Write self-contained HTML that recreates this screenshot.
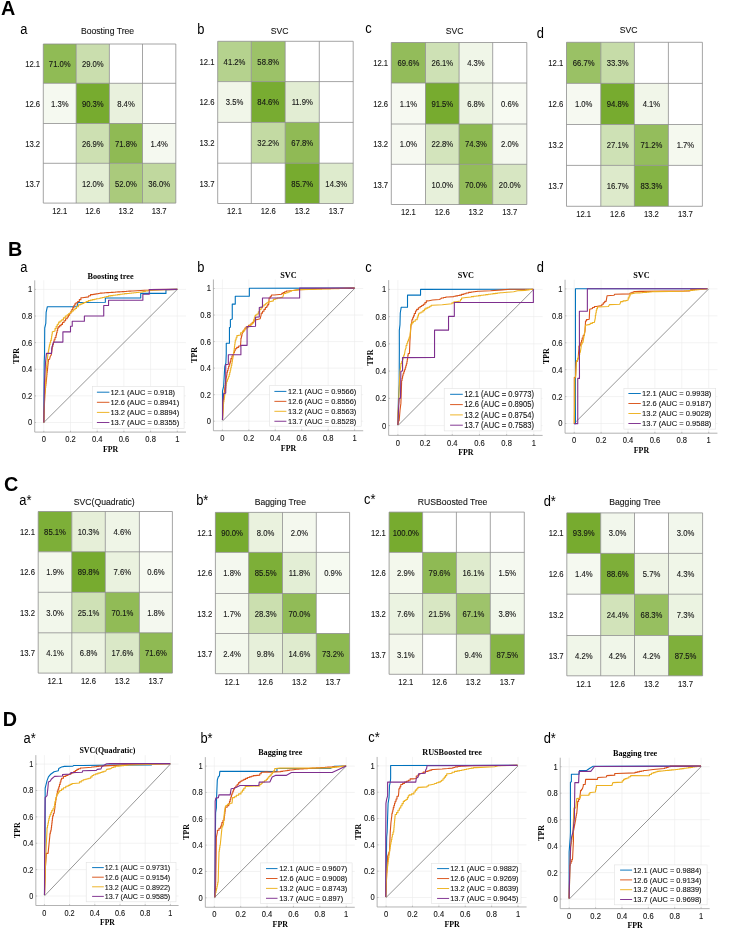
<!DOCTYPE html>
<html><head><meta charset="utf-8"><title>Figure</title>
<style>html,body{margin:0;padding:0;background:#fff;} svg{display:block;} text.t{stroke:#141414;stroke-width:0.1px;}</style>
</head><body>
<svg width="746" height="930" viewBox="0 0 746 930" font-family="'Liberation Sans', Arial, sans-serif">
<rect width="746" height="930" fill="#fff"/>
<rect x="43.30" y="44.00" width="32.90" height="39.30" fill="#90bb55"/>
<rect x="76.20" y="44.00" width="33.20" height="39.30" fill="#cadeae"/>
<rect x="109.40" y="44.00" width="33.10" height="39.30" fill="#ffffff"/>
<rect x="142.50" y="44.00" width="33.30" height="39.30" fill="#ffffff"/>
<rect x="43.30" y="83.30" width="32.90" height="40.20" fill="#f5f9f0"/>
<rect x="76.20" y="83.30" width="33.20" height="40.20" fill="#77ab2f"/>
<rect x="109.40" y="83.30" width="33.10" height="40.20" fill="#e9f1dd"/>
<rect x="142.50" y="83.30" width="33.30" height="40.20" fill="#ffffff"/>
<rect x="43.30" y="123.50" width="32.90" height="39.80" fill="#ffffff"/>
<rect x="76.20" y="123.50" width="33.20" height="39.80" fill="#cde0b2"/>
<rect x="109.40" y="123.50" width="33.10" height="39.80" fill="#8fba54"/>
<rect x="142.50" y="123.50" width="33.30" height="39.80" fill="#f5f9f0"/>
<rect x="43.30" y="163.30" width="32.90" height="39.80" fill="#ffffff"/>
<rect x="76.20" y="163.30" width="33.20" height="39.80" fill="#e3eed4"/>
<rect x="109.40" y="163.30" width="33.10" height="39.80" fill="#aaca7c"/>
<rect x="142.50" y="163.30" width="33.30" height="39.80" fill="#c0d89e"/>
<line x1="43.30" y1="44.00" x2="43.30" y2="203.10" stroke="#8e8e8e" stroke-width="0.8"/>
<line x1="76.20" y1="44.00" x2="76.20" y2="203.10" stroke="#8e8e8e" stroke-width="0.8"/>
<line x1="109.40" y1="44.00" x2="109.40" y2="203.10" stroke="#8e8e8e" stroke-width="0.8"/>
<line x1="142.50" y1="44.00" x2="142.50" y2="203.10" stroke="#8e8e8e" stroke-width="0.8"/>
<line x1="175.80" y1="44.00" x2="175.80" y2="203.10" stroke="#8e8e8e" stroke-width="0.8"/>
<line x1="43.30" y1="44.00" x2="175.80" y2="44.00" stroke="#8e8e8e" stroke-width="0.8"/>
<line x1="43.30" y1="83.30" x2="175.80" y2="83.30" stroke="#8e8e8e" stroke-width="0.8"/>
<line x1="43.30" y1="123.50" x2="175.80" y2="123.50" stroke="#8e8e8e" stroke-width="0.8"/>
<line x1="43.30" y1="163.30" x2="175.80" y2="163.30" stroke="#8e8e8e" stroke-width="0.8"/>
<line x1="43.30" y1="203.10" x2="175.80" y2="203.10" stroke="#8e8e8e" stroke-width="0.8"/>
<text transform="translate(59.75 66.95) scale(1 1.1)" text-anchor="middle" font-size="7.7" fill="#141414" class="t">71.0%</text>
<text transform="translate(92.80 66.95) scale(1 1.1)" text-anchor="middle" font-size="7.7" fill="#141414" class="t">29.0%</text>
<text transform="translate(59.75 106.70) scale(1 1.1)" text-anchor="middle" font-size="7.7" fill="#141414" class="t">1.3%</text>
<text transform="translate(92.80 106.70) scale(1 1.1)" text-anchor="middle" font-size="7.7" fill="#141414" class="t">90.3%</text>
<text transform="translate(125.95 106.70) scale(1 1.1)" text-anchor="middle" font-size="7.7" fill="#141414" class="t">8.4%</text>
<text transform="translate(92.80 146.70) scale(1 1.1)" text-anchor="middle" font-size="7.7" fill="#141414" class="t">26.9%</text>
<text transform="translate(125.95 146.70) scale(1 1.1)" text-anchor="middle" font-size="7.7" fill="#141414" class="t">71.8%</text>
<text transform="translate(159.15 146.70) scale(1 1.1)" text-anchor="middle" font-size="7.7" fill="#141414" class="t">1.4%</text>
<text transform="translate(92.80 186.50) scale(1 1.1)" text-anchor="middle" font-size="7.7" fill="#141414" class="t">12.0%</text>
<text transform="translate(125.95 186.50) scale(1 1.1)" text-anchor="middle" font-size="7.7" fill="#141414" class="t">52.0%</text>
<text transform="translate(159.15 186.50) scale(1 1.1)" text-anchor="middle" font-size="7.7" fill="#141414" class="t">36.0%</text>
<text transform="translate(40.10 66.95) scale(1 1.1)" text-anchor="end" font-size="7.7" fill="#141414" class="t">12.1</text>
<text transform="translate(40.10 106.70) scale(1 1.1)" text-anchor="end" font-size="7.7" fill="#141414" class="t">12.6</text>
<text transform="translate(40.10 146.70) scale(1 1.1)" text-anchor="end" font-size="7.7" fill="#141414" class="t">13.2</text>
<text transform="translate(40.10 186.50) scale(1 1.1)" text-anchor="end" font-size="7.7" fill="#141414" class="t">13.7</text>
<text transform="translate(59.75 214.00) scale(1 1.1)" text-anchor="middle" font-size="7.7" fill="#141414" class="t">12.1</text>
<text transform="translate(92.80 214.00) scale(1 1.1)" text-anchor="middle" font-size="7.7" fill="#141414" class="t">12.6</text>
<text transform="translate(125.95 214.00) scale(1 1.1)" text-anchor="middle" font-size="7.7" fill="#141414" class="t">13.2</text>
<text transform="translate(159.15 214.00) scale(1 1.1)" text-anchor="middle" font-size="7.7" fill="#141414" class="t">13.7</text>
<text x="107.50" y="34.40" text-anchor="middle" font-size="8.65" fill="#141414" class="t">Boosting Tree</text>
<text transform="translate(20.34 34.00) scale(0.97 1.1)" font-size="13.3" fill="#000">a</text>
<rect x="217.70" y="41.30" width="33.60" height="40.30" fill="#b5d28e"/>
<rect x="251.30" y="41.30" width="33.90" height="40.30" fill="#9cc268"/>
<rect x="285.20" y="41.30" width="34.10" height="40.30" fill="#ffffff"/>
<rect x="319.30" y="41.30" width="33.90" height="40.30" fill="#ffffff"/>
<rect x="217.70" y="81.60" width="33.60" height="40.80" fill="#f1f6e9"/>
<rect x="251.30" y="81.60" width="33.90" height="40.80" fill="#78ac31"/>
<rect x="285.20" y="81.60" width="34.10" height="40.80" fill="#e2edd3"/>
<rect x="319.30" y="81.60" width="33.90" height="40.80" fill="#ffffff"/>
<rect x="217.70" y="122.40" width="33.60" height="40.80" fill="#ffffff"/>
<rect x="251.30" y="122.40" width="33.90" height="40.80" fill="#c3daa3"/>
<rect x="285.20" y="122.40" width="34.10" height="40.80" fill="#90ba55"/>
<rect x="319.30" y="122.40" width="33.90" height="40.80" fill="#ffffff"/>
<rect x="217.70" y="163.20" width="33.60" height="40.30" fill="#ffffff"/>
<rect x="251.30" y="163.20" width="33.90" height="40.30" fill="#ffffff"/>
<rect x="285.20" y="163.20" width="34.10" height="40.30" fill="#77ab2f"/>
<rect x="319.30" y="163.20" width="33.90" height="40.30" fill="#deebcd"/>
<line x1="217.70" y1="41.30" x2="217.70" y2="203.50" stroke="#8e8e8e" stroke-width="0.8"/>
<line x1="251.30" y1="41.30" x2="251.30" y2="203.50" stroke="#8e8e8e" stroke-width="0.8"/>
<line x1="285.20" y1="41.30" x2="285.20" y2="203.50" stroke="#8e8e8e" stroke-width="0.8"/>
<line x1="319.30" y1="41.30" x2="319.30" y2="203.50" stroke="#8e8e8e" stroke-width="0.8"/>
<line x1="353.20" y1="41.30" x2="353.20" y2="203.50" stroke="#8e8e8e" stroke-width="0.8"/>
<line x1="217.70" y1="41.30" x2="353.20" y2="41.30" stroke="#8e8e8e" stroke-width="0.8"/>
<line x1="217.70" y1="81.60" x2="353.20" y2="81.60" stroke="#8e8e8e" stroke-width="0.8"/>
<line x1="217.70" y1="122.40" x2="353.20" y2="122.40" stroke="#8e8e8e" stroke-width="0.8"/>
<line x1="217.70" y1="163.20" x2="353.20" y2="163.20" stroke="#8e8e8e" stroke-width="0.8"/>
<line x1="217.70" y1="203.50" x2="353.20" y2="203.50" stroke="#8e8e8e" stroke-width="0.8"/>
<text transform="translate(234.50 64.75) scale(1 1.1)" text-anchor="middle" font-size="7.7" fill="#141414" class="t">41.2%</text>
<text transform="translate(268.25 64.75) scale(1 1.1)" text-anchor="middle" font-size="7.7" fill="#141414" class="t">58.8%</text>
<text transform="translate(234.50 105.30) scale(1 1.1)" text-anchor="middle" font-size="7.7" fill="#141414" class="t">3.5%</text>
<text transform="translate(268.25 105.30) scale(1 1.1)" text-anchor="middle" font-size="7.7" fill="#141414" class="t">84.6%</text>
<text transform="translate(302.25 105.30) scale(1 1.1)" text-anchor="middle" font-size="7.7" fill="#141414" class="t">11.9%</text>
<text transform="translate(268.25 146.10) scale(1 1.1)" text-anchor="middle" font-size="7.7" fill="#141414" class="t">32.2%</text>
<text transform="translate(302.25 146.10) scale(1 1.1)" text-anchor="middle" font-size="7.7" fill="#141414" class="t">67.8%</text>
<text transform="translate(302.25 186.65) scale(1 1.1)" text-anchor="middle" font-size="7.7" fill="#141414" class="t">85.7%</text>
<text transform="translate(336.25 186.65) scale(1 1.1)" text-anchor="middle" font-size="7.7" fill="#141414" class="t">14.3%</text>
<text transform="translate(214.50 64.75) scale(1 1.1)" text-anchor="end" font-size="7.7" fill="#141414" class="t">12.1</text>
<text transform="translate(214.50 105.30) scale(1 1.1)" text-anchor="end" font-size="7.7" fill="#141414" class="t">12.6</text>
<text transform="translate(214.50 146.10) scale(1 1.1)" text-anchor="end" font-size="7.7" fill="#141414" class="t">13.2</text>
<text transform="translate(214.50 186.65) scale(1 1.1)" text-anchor="end" font-size="7.7" fill="#141414" class="t">13.7</text>
<text transform="translate(234.50 214.40) scale(1 1.1)" text-anchor="middle" font-size="7.7" fill="#141414" class="t">12.1</text>
<text transform="translate(268.25 214.40) scale(1 1.1)" text-anchor="middle" font-size="7.7" fill="#141414" class="t">12.6</text>
<text transform="translate(302.25 214.40) scale(1 1.1)" text-anchor="middle" font-size="7.7" fill="#141414" class="t">13.2</text>
<text transform="translate(336.25 214.40) scale(1 1.1)" text-anchor="middle" font-size="7.7" fill="#141414" class="t">13.7</text>
<text x="279.70" y="33.60" text-anchor="middle" font-size="8.65" fill="#141414" class="t">SVC</text>
<text transform="translate(197.30 34.30) scale(0.97 1.1)" font-size="13.3" fill="#000">b</text>
<rect x="391.30" y="42.50" width="34.20" height="40.50" fill="#93bc5a"/>
<rect x="425.50" y="42.50" width="33.60" height="40.50" fill="#cee1b5"/>
<rect x="459.10" y="42.50" width="33.60" height="40.50" fill="#f0f6e8"/>
<rect x="492.70" y="42.50" width="34.10" height="40.50" fill="#ffffff"/>
<rect x="391.30" y="83.00" width="34.20" height="41.00" fill="#f6f9f1"/>
<rect x="425.50" y="83.00" width="33.60" height="41.00" fill="#77ab2f"/>
<rect x="459.10" y="83.00" width="33.60" height="41.00" fill="#ecf3e2"/>
<rect x="492.70" y="83.00" width="34.10" height="41.00" fill="#f7faf2"/>
<rect x="391.30" y="124.00" width="34.20" height="40.30" fill="#f6f9f1"/>
<rect x="425.50" y="124.00" width="33.60" height="40.30" fill="#d3e4bc"/>
<rect x="459.10" y="124.00" width="33.60" height="40.30" fill="#8db951"/>
<rect x="492.70" y="124.00" width="34.10" height="40.30" fill="#f4f8ee"/>
<rect x="391.30" y="164.30" width="34.20" height="40.20" fill="#ffffff"/>
<rect x="425.50" y="164.30" width="33.60" height="40.20" fill="#e7f0da"/>
<rect x="459.10" y="164.30" width="33.60" height="40.20" fill="#93bc59"/>
<rect x="492.70" y="164.30" width="34.10" height="40.20" fill="#d7e6c2"/>
<line x1="391.30" y1="42.50" x2="391.30" y2="204.50" stroke="#8e8e8e" stroke-width="0.8"/>
<line x1="425.50" y1="42.50" x2="425.50" y2="204.50" stroke="#8e8e8e" stroke-width="0.8"/>
<line x1="459.10" y1="42.50" x2="459.10" y2="204.50" stroke="#8e8e8e" stroke-width="0.8"/>
<line x1="492.70" y1="42.50" x2="492.70" y2="204.50" stroke="#8e8e8e" stroke-width="0.8"/>
<line x1="526.80" y1="42.50" x2="526.80" y2="204.50" stroke="#8e8e8e" stroke-width="0.8"/>
<line x1="391.30" y1="42.50" x2="526.80" y2="42.50" stroke="#8e8e8e" stroke-width="0.8"/>
<line x1="391.30" y1="83.00" x2="526.80" y2="83.00" stroke="#8e8e8e" stroke-width="0.8"/>
<line x1="391.30" y1="124.00" x2="526.80" y2="124.00" stroke="#8e8e8e" stroke-width="0.8"/>
<line x1="391.30" y1="164.30" x2="526.80" y2="164.30" stroke="#8e8e8e" stroke-width="0.8"/>
<line x1="391.30" y1="204.50" x2="526.80" y2="204.50" stroke="#8e8e8e" stroke-width="0.8"/>
<text transform="translate(408.40 66.05) scale(1 1.1)" text-anchor="middle" font-size="7.7" fill="#141414" class="t">69.6%</text>
<text transform="translate(442.30 66.05) scale(1 1.1)" text-anchor="middle" font-size="7.7" fill="#141414" class="t">26.1%</text>
<text transform="translate(475.90 66.05) scale(1 1.1)" text-anchor="middle" font-size="7.7" fill="#141414" class="t">4.3%</text>
<text transform="translate(408.40 106.80) scale(1 1.1)" text-anchor="middle" font-size="7.7" fill="#141414" class="t">1.1%</text>
<text transform="translate(442.30 106.80) scale(1 1.1)" text-anchor="middle" font-size="7.7" fill="#141414" class="t">91.5%</text>
<text transform="translate(475.90 106.80) scale(1 1.1)" text-anchor="middle" font-size="7.7" fill="#141414" class="t">6.8%</text>
<text transform="translate(509.75 106.80) scale(1 1.1)" text-anchor="middle" font-size="7.7" fill="#141414" class="t">0.6%</text>
<text transform="translate(408.40 147.45) scale(1 1.1)" text-anchor="middle" font-size="7.7" fill="#141414" class="t">1.0%</text>
<text transform="translate(442.30 147.45) scale(1 1.1)" text-anchor="middle" font-size="7.7" fill="#141414" class="t">22.8%</text>
<text transform="translate(475.90 147.45) scale(1 1.1)" text-anchor="middle" font-size="7.7" fill="#141414" class="t">74.3%</text>
<text transform="translate(509.75 147.45) scale(1 1.1)" text-anchor="middle" font-size="7.7" fill="#141414" class="t">2.0%</text>
<text transform="translate(442.30 187.70) scale(1 1.1)" text-anchor="middle" font-size="7.7" fill="#141414" class="t">10.0%</text>
<text transform="translate(475.90 187.70) scale(1 1.1)" text-anchor="middle" font-size="7.7" fill="#141414" class="t">70.0%</text>
<text transform="translate(509.75 187.70) scale(1 1.1)" text-anchor="middle" font-size="7.7" fill="#141414" class="t">20.0%</text>
<text transform="translate(388.10 66.05) scale(1 1.1)" text-anchor="end" font-size="7.7" fill="#141414" class="t">12.1</text>
<text transform="translate(388.10 106.80) scale(1 1.1)" text-anchor="end" font-size="7.7" fill="#141414" class="t">12.6</text>
<text transform="translate(388.10 147.45) scale(1 1.1)" text-anchor="end" font-size="7.7" fill="#141414" class="t">13.2</text>
<text transform="translate(388.10 187.70) scale(1 1.1)" text-anchor="end" font-size="7.7" fill="#141414" class="t">13.7</text>
<text transform="translate(408.40 215.40) scale(1 1.1)" text-anchor="middle" font-size="7.7" fill="#141414" class="t">12.1</text>
<text transform="translate(442.30 215.40) scale(1 1.1)" text-anchor="middle" font-size="7.7" fill="#141414" class="t">12.6</text>
<text transform="translate(475.90 215.40) scale(1 1.1)" text-anchor="middle" font-size="7.7" fill="#141414" class="t">13.2</text>
<text transform="translate(509.75 215.40) scale(1 1.1)" text-anchor="middle" font-size="7.7" fill="#141414" class="t">13.7</text>
<text x="454.60" y="33.60" text-anchor="middle" font-size="8.65" fill="#141414" class="t">SVC</text>
<text transform="translate(365.14 33.05) scale(0.97 1.1)" font-size="13.3" fill="#000">c</text>
<rect x="566.50" y="42.30" width="34.30" height="41.10" fill="#9ac165"/>
<rect x="600.80" y="42.30" width="33.60" height="41.10" fill="#c6dca8"/>
<rect x="634.40" y="42.30" width="34.00" height="41.10" fill="#ffffff"/>
<rect x="668.40" y="42.30" width="34.00" height="41.10" fill="#ffffff"/>
<rect x="566.50" y="83.40" width="34.30" height="41.10" fill="#f6f9f1"/>
<rect x="600.80" y="83.40" width="33.60" height="41.10" fill="#77ab2f"/>
<rect x="634.40" y="83.40" width="34.00" height="41.10" fill="#f1f6e9"/>
<rect x="668.40" y="83.40" width="34.00" height="41.10" fill="#ffffff"/>
<rect x="566.50" y="124.50" width="34.30" height="40.90" fill="#ffffff"/>
<rect x="600.80" y="124.50" width="33.60" height="40.90" fill="#cee1b5"/>
<rect x="634.40" y="124.50" width="34.00" height="40.90" fill="#94bd5c"/>
<rect x="668.40" y="124.50" width="34.00" height="40.90" fill="#f5f9ef"/>
<rect x="566.50" y="165.40" width="34.30" height="40.90" fill="#ffffff"/>
<rect x="600.80" y="165.40" width="33.60" height="40.90" fill="#ddeacb"/>
<rect x="634.40" y="165.40" width="34.00" height="40.90" fill="#85b445"/>
<rect x="668.40" y="165.40" width="34.00" height="40.90" fill="#ffffff"/>
<line x1="566.50" y1="42.30" x2="566.50" y2="206.30" stroke="#8e8e8e" stroke-width="0.8"/>
<line x1="600.80" y1="42.30" x2="600.80" y2="206.30" stroke="#8e8e8e" stroke-width="0.8"/>
<line x1="634.40" y1="42.30" x2="634.40" y2="206.30" stroke="#8e8e8e" stroke-width="0.8"/>
<line x1="668.40" y1="42.30" x2="668.40" y2="206.30" stroke="#8e8e8e" stroke-width="0.8"/>
<line x1="702.40" y1="42.30" x2="702.40" y2="206.30" stroke="#8e8e8e" stroke-width="0.8"/>
<line x1="566.50" y1="42.30" x2="702.40" y2="42.30" stroke="#8e8e8e" stroke-width="0.8"/>
<line x1="566.50" y1="83.40" x2="702.40" y2="83.40" stroke="#8e8e8e" stroke-width="0.8"/>
<line x1="566.50" y1="124.50" x2="702.40" y2="124.50" stroke="#8e8e8e" stroke-width="0.8"/>
<line x1="566.50" y1="165.40" x2="702.40" y2="165.40" stroke="#8e8e8e" stroke-width="0.8"/>
<line x1="566.50" y1="206.30" x2="702.40" y2="206.30" stroke="#8e8e8e" stroke-width="0.8"/>
<text transform="translate(583.65 66.15) scale(1 1.1)" text-anchor="middle" font-size="7.7" fill="#141414" class="t">66.7%</text>
<text transform="translate(617.60 66.15) scale(1 1.1)" text-anchor="middle" font-size="7.7" fill="#141414" class="t">33.3%</text>
<text transform="translate(583.65 107.25) scale(1 1.1)" text-anchor="middle" font-size="7.7" fill="#141414" class="t">1.0%</text>
<text transform="translate(617.60 107.25) scale(1 1.1)" text-anchor="middle" font-size="7.7" fill="#141414" class="t">94.8%</text>
<text transform="translate(651.40 107.25) scale(1 1.1)" text-anchor="middle" font-size="7.7" fill="#141414" class="t">4.1%</text>
<text transform="translate(617.60 148.25) scale(1 1.1)" text-anchor="middle" font-size="7.7" fill="#141414" class="t">27.1%</text>
<text transform="translate(651.40 148.25) scale(1 1.1)" text-anchor="middle" font-size="7.7" fill="#141414" class="t">71.2%</text>
<text transform="translate(685.40 148.25) scale(1 1.1)" text-anchor="middle" font-size="7.7" fill="#141414" class="t">1.7%</text>
<text transform="translate(617.60 189.15) scale(1 1.1)" text-anchor="middle" font-size="7.7" fill="#141414" class="t">16.7%</text>
<text transform="translate(651.40 189.15) scale(1 1.1)" text-anchor="middle" font-size="7.7" fill="#141414" class="t">83.3%</text>
<text transform="translate(563.30 66.15) scale(1 1.1)" text-anchor="end" font-size="7.7" fill="#141414" class="t">12.1</text>
<text transform="translate(563.30 107.25) scale(1 1.1)" text-anchor="end" font-size="7.7" fill="#141414" class="t">12.6</text>
<text transform="translate(563.30 148.25) scale(1 1.1)" text-anchor="end" font-size="7.7" fill="#141414" class="t">13.2</text>
<text transform="translate(563.30 189.15) scale(1 1.1)" text-anchor="end" font-size="7.7" fill="#141414" class="t">13.7</text>
<text transform="translate(583.65 217.20) scale(1 1.1)" text-anchor="middle" font-size="7.7" fill="#141414" class="t">12.1</text>
<text transform="translate(617.60 217.20) scale(1 1.1)" text-anchor="middle" font-size="7.7" fill="#141414" class="t">12.6</text>
<text transform="translate(651.40 217.20) scale(1 1.1)" text-anchor="middle" font-size="7.7" fill="#141414" class="t">13.2</text>
<text transform="translate(685.40 217.20) scale(1 1.1)" text-anchor="middle" font-size="7.7" fill="#141414" class="t">13.7</text>
<text x="628.50" y="32.70" text-anchor="middle" font-size="8.65" fill="#141414" class="t">SVC</text>
<text transform="translate(536.70 37.80) scale(0.97 1.1)" font-size="13.3" fill="#000">d</text>
<rect x="38.20" y="511.50" width="33.60" height="40.30" fill="#7daf38"/>
<rect x="71.80" y="511.50" width="33.50" height="40.30" fill="#e6efd8"/>
<rect x="105.30" y="511.50" width="34.10" height="40.30" fill="#eff5e7"/>
<rect x="139.40" y="511.50" width="33.00" height="40.30" fill="#ffffff"/>
<rect x="38.20" y="551.80" width="33.60" height="40.50" fill="#f4f8ee"/>
<rect x="71.80" y="551.80" width="33.50" height="40.50" fill="#77ab2f"/>
<rect x="105.30" y="551.80" width="34.10" height="40.50" fill="#eaf2df"/>
<rect x="139.40" y="551.80" width="33.00" height="40.50" fill="#f7faf2"/>
<rect x="38.20" y="592.30" width="33.60" height="40.50" fill="#f2f7eb"/>
<rect x="71.80" y="592.30" width="33.50" height="40.50" fill="#cfe1b6"/>
<rect x="105.30" y="592.30" width="34.10" height="40.50" fill="#91bb56"/>
<rect x="139.40" y="592.30" width="33.00" height="40.50" fill="#f4f8ef"/>
<rect x="38.20" y="632.80" width="33.60" height="40.30" fill="#f0f6e8"/>
<rect x="71.80" y="632.80" width="33.50" height="40.30" fill="#ecf3e1"/>
<rect x="105.30" y="632.80" width="34.10" height="40.30" fill="#dae8c7"/>
<rect x="139.40" y="632.80" width="33.00" height="40.30" fill="#8fba53"/>
<line x1="38.20" y1="511.50" x2="38.20" y2="673.10" stroke="#8e8e8e" stroke-width="0.8"/>
<line x1="71.80" y1="511.50" x2="71.80" y2="673.10" stroke="#8e8e8e" stroke-width="0.8"/>
<line x1="105.30" y1="511.50" x2="105.30" y2="673.10" stroke="#8e8e8e" stroke-width="0.8"/>
<line x1="139.40" y1="511.50" x2="139.40" y2="673.10" stroke="#8e8e8e" stroke-width="0.8"/>
<line x1="172.40" y1="511.50" x2="172.40" y2="673.10" stroke="#8e8e8e" stroke-width="0.8"/>
<line x1="38.20" y1="511.50" x2="172.40" y2="511.50" stroke="#8e8e8e" stroke-width="0.8"/>
<line x1="38.20" y1="551.80" x2="172.40" y2="551.80" stroke="#8e8e8e" stroke-width="0.8"/>
<line x1="38.20" y1="592.30" x2="172.40" y2="592.30" stroke="#8e8e8e" stroke-width="0.8"/>
<line x1="38.20" y1="632.80" x2="172.40" y2="632.80" stroke="#8e8e8e" stroke-width="0.8"/>
<line x1="38.20" y1="673.10" x2="172.40" y2="673.10" stroke="#8e8e8e" stroke-width="0.8"/>
<text transform="translate(55.00 534.95) scale(1 1.1)" text-anchor="middle" font-size="7.7" fill="#141414" class="t">85.1%</text>
<text transform="translate(88.55 534.95) scale(1 1.1)" text-anchor="middle" font-size="7.7" fill="#141414" class="t">10.3%</text>
<text transform="translate(122.35 534.95) scale(1 1.1)" text-anchor="middle" font-size="7.7" fill="#141414" class="t">4.6%</text>
<text transform="translate(55.00 575.35) scale(1 1.1)" text-anchor="middle" font-size="7.7" fill="#141414" class="t">1.9%</text>
<text transform="translate(88.55 575.35) scale(1 1.1)" text-anchor="middle" font-size="7.7" fill="#141414" class="t">89.8%</text>
<text transform="translate(122.35 575.35) scale(1 1.1)" text-anchor="middle" font-size="7.7" fill="#141414" class="t">7.6%</text>
<text transform="translate(155.90 575.35) scale(1 1.1)" text-anchor="middle" font-size="7.7" fill="#141414" class="t">0.6%</text>
<text transform="translate(55.00 615.85) scale(1 1.1)" text-anchor="middle" font-size="7.7" fill="#141414" class="t">3.0%</text>
<text transform="translate(88.55 615.85) scale(1 1.1)" text-anchor="middle" font-size="7.7" fill="#141414" class="t">25.1%</text>
<text transform="translate(122.35 615.85) scale(1 1.1)" text-anchor="middle" font-size="7.7" fill="#141414" class="t">70.1%</text>
<text transform="translate(155.90 615.85) scale(1 1.1)" text-anchor="middle" font-size="7.7" fill="#141414" class="t">1.8%</text>
<text transform="translate(55.00 656.25) scale(1 1.1)" text-anchor="middle" font-size="7.7" fill="#141414" class="t">4.1%</text>
<text transform="translate(88.55 656.25) scale(1 1.1)" text-anchor="middle" font-size="7.7" fill="#141414" class="t">6.8%</text>
<text transform="translate(122.35 656.25) scale(1 1.1)" text-anchor="middle" font-size="7.7" fill="#141414" class="t">17.6%</text>
<text transform="translate(155.90 656.25) scale(1 1.1)" text-anchor="middle" font-size="7.7" fill="#141414" class="t">71.6%</text>
<text transform="translate(35.00 534.95) scale(1 1.1)" text-anchor="end" font-size="7.7" fill="#141414" class="t">12.1</text>
<text transform="translate(35.00 575.35) scale(1 1.1)" text-anchor="end" font-size="7.7" fill="#141414" class="t">12.6</text>
<text transform="translate(35.00 615.85) scale(1 1.1)" text-anchor="end" font-size="7.7" fill="#141414" class="t">13.2</text>
<text transform="translate(35.00 656.25) scale(1 1.1)" text-anchor="end" font-size="7.7" fill="#141414" class="t">13.7</text>
<text transform="translate(55.00 684.00) scale(1 1.1)" text-anchor="middle" font-size="7.7" fill="#141414" class="t">12.1</text>
<text transform="translate(88.55 684.00) scale(1 1.1)" text-anchor="middle" font-size="7.7" fill="#141414" class="t">12.6</text>
<text transform="translate(122.35 684.00) scale(1 1.1)" text-anchor="middle" font-size="7.7" fill="#141414" class="t">13.2</text>
<text transform="translate(155.90 684.00) scale(1 1.1)" text-anchor="middle" font-size="7.7" fill="#141414" class="t">13.7</text>
<text x="104.30" y="505.10" text-anchor="middle" font-size="8.65" fill="#141414" class="t">SVC(Quadratic)</text>
<text transform="translate(19.34 505.30) scale(0.97 1.1)" font-size="13.3" fill="#000">a*</text>
<rect x="215.40" y="512.40" width="33.30" height="40.00" fill="#77ab2f"/>
<rect x="248.70" y="512.40" width="33.80" height="40.00" fill="#eaf2de"/>
<rect x="282.50" y="512.40" width="33.80" height="40.00" fill="#f4f8ee"/>
<rect x="316.30" y="512.40" width="33.30" height="40.00" fill="#ffffff"/>
<rect x="215.40" y="552.40" width="33.30" height="41.10" fill="#f4f8ef"/>
<rect x="248.70" y="552.40" width="33.80" height="41.10" fill="#7daf38"/>
<rect x="282.50" y="552.40" width="33.80" height="41.10" fill="#e3eed5"/>
<rect x="316.30" y="552.40" width="33.30" height="41.10" fill="#f6faf1"/>
<rect x="215.40" y="593.50" width="33.30" height="40.00" fill="#f5f9ef"/>
<rect x="248.70" y="593.50" width="33.80" height="40.00" fill="#cbdfaf"/>
<rect x="282.50" y="593.50" width="33.80" height="40.00" fill="#91bb57"/>
<rect x="316.30" y="593.50" width="33.30" height="40.00" fill="#ffffff"/>
<rect x="215.40" y="633.50" width="33.30" height="40.20" fill="#f3f8ed"/>
<rect x="248.70" y="633.50" width="33.80" height="40.20" fill="#e7f0da"/>
<rect x="282.50" y="633.50" width="33.80" height="40.20" fill="#dfebce"/>
<rect x="316.30" y="633.50" width="33.30" height="40.20" fill="#8db951"/>
<line x1="215.40" y1="512.40" x2="215.40" y2="673.70" stroke="#8e8e8e" stroke-width="0.8"/>
<line x1="248.70" y1="512.40" x2="248.70" y2="673.70" stroke="#8e8e8e" stroke-width="0.8"/>
<line x1="282.50" y1="512.40" x2="282.50" y2="673.70" stroke="#8e8e8e" stroke-width="0.8"/>
<line x1="316.30" y1="512.40" x2="316.30" y2="673.70" stroke="#8e8e8e" stroke-width="0.8"/>
<line x1="349.60" y1="512.40" x2="349.60" y2="673.70" stroke="#8e8e8e" stroke-width="0.8"/>
<line x1="215.40" y1="512.40" x2="349.60" y2="512.40" stroke="#8e8e8e" stroke-width="0.8"/>
<line x1="215.40" y1="552.40" x2="349.60" y2="552.40" stroke="#8e8e8e" stroke-width="0.8"/>
<line x1="215.40" y1="593.50" x2="349.60" y2="593.50" stroke="#8e8e8e" stroke-width="0.8"/>
<line x1="215.40" y1="633.50" x2="349.60" y2="633.50" stroke="#8e8e8e" stroke-width="0.8"/>
<line x1="215.40" y1="673.70" x2="349.60" y2="673.70" stroke="#8e8e8e" stroke-width="0.8"/>
<text transform="translate(232.05 535.70) scale(1 1.1)" text-anchor="middle" font-size="7.7" fill="#141414" class="t">90.0%</text>
<text transform="translate(265.60 535.70) scale(1 1.1)" text-anchor="middle" font-size="7.7" fill="#141414" class="t">8.0%</text>
<text transform="translate(299.40 535.70) scale(1 1.1)" text-anchor="middle" font-size="7.7" fill="#141414" class="t">2.0%</text>
<text transform="translate(232.05 576.25) scale(1 1.1)" text-anchor="middle" font-size="7.7" fill="#141414" class="t">1.8%</text>
<text transform="translate(265.60 576.25) scale(1 1.1)" text-anchor="middle" font-size="7.7" fill="#141414" class="t">85.5%</text>
<text transform="translate(299.40 576.25) scale(1 1.1)" text-anchor="middle" font-size="7.7" fill="#141414" class="t">11.8%</text>
<text transform="translate(332.95 576.25) scale(1 1.1)" text-anchor="middle" font-size="7.7" fill="#141414" class="t">0.9%</text>
<text transform="translate(232.05 616.80) scale(1 1.1)" text-anchor="middle" font-size="7.7" fill="#141414" class="t">1.7%</text>
<text transform="translate(265.60 616.80) scale(1 1.1)" text-anchor="middle" font-size="7.7" fill="#141414" class="t">28.3%</text>
<text transform="translate(299.40 616.80) scale(1 1.1)" text-anchor="middle" font-size="7.7" fill="#141414" class="t">70.0%</text>
<text transform="translate(232.05 656.90) scale(1 1.1)" text-anchor="middle" font-size="7.7" fill="#141414" class="t">2.4%</text>
<text transform="translate(265.60 656.90) scale(1 1.1)" text-anchor="middle" font-size="7.7" fill="#141414" class="t">9.8%</text>
<text transform="translate(299.40 656.90) scale(1 1.1)" text-anchor="middle" font-size="7.7" fill="#141414" class="t">14.6%</text>
<text transform="translate(332.95 656.90) scale(1 1.1)" text-anchor="middle" font-size="7.7" fill="#141414" class="t">73.2%</text>
<text transform="translate(212.20 535.70) scale(1 1.1)" text-anchor="end" font-size="7.7" fill="#141414" class="t">12.1</text>
<text transform="translate(212.20 576.25) scale(1 1.1)" text-anchor="end" font-size="7.7" fill="#141414" class="t">12.6</text>
<text transform="translate(212.20 616.80) scale(1 1.1)" text-anchor="end" font-size="7.7" fill="#141414" class="t">13.2</text>
<text transform="translate(212.20 656.90) scale(1 1.1)" text-anchor="end" font-size="7.7" fill="#141414" class="t">13.7</text>
<text transform="translate(232.05 684.60) scale(1 1.1)" text-anchor="middle" font-size="7.7" fill="#141414" class="t">12.1</text>
<text transform="translate(265.60 684.60) scale(1 1.1)" text-anchor="middle" font-size="7.7" fill="#141414" class="t">12.6</text>
<text transform="translate(299.40 684.60) scale(1 1.1)" text-anchor="middle" font-size="7.7" fill="#141414" class="t">13.2</text>
<text transform="translate(332.95 684.60) scale(1 1.1)" text-anchor="middle" font-size="7.7" fill="#141414" class="t">13.7</text>
<text x="280.30" y="505.30" text-anchor="middle" font-size="8.65" fill="#141414" class="t">Bagging Tree</text>
<text transform="translate(196.20 505.10) scale(0.97 1.1)" font-size="13.3" fill="#000">b*</text>
<rect x="389.10" y="512.10" width="33.50" height="40.30" fill="#77ab2f"/>
<rect x="422.60" y="512.10" width="33.80" height="40.30" fill="#ffffff"/>
<rect x="456.40" y="512.10" width="33.90" height="40.30" fill="#ffffff"/>
<rect x="490.30" y="512.10" width="34.00" height="40.30" fill="#ffffff"/>
<rect x="389.10" y="552.40" width="33.50" height="41.10" fill="#f3f8ec"/>
<rect x="422.60" y="552.40" width="33.80" height="41.10" fill="#8fba54"/>
<rect x="456.40" y="552.40" width="33.90" height="41.10" fill="#dfebce"/>
<rect x="490.30" y="552.40" width="34.00" height="41.10" fill="#f5f9f0"/>
<rect x="389.10" y="593.50" width="33.50" height="40.70" fill="#ebf3e1"/>
<rect x="422.60" y="593.50" width="33.80" height="40.70" fill="#d8e7c3"/>
<rect x="456.40" y="593.50" width="33.90" height="40.70" fill="#9ec36b"/>
<rect x="490.30" y="593.50" width="34.00" height="40.70" fill="#f1f7ea"/>
<rect x="389.10" y="634.20" width="33.50" height="40.10" fill="#f3f7ec"/>
<rect x="422.60" y="634.20" width="33.80" height="40.10" fill="#ffffff"/>
<rect x="456.40" y="634.20" width="33.90" height="40.10" fill="#e9f1dd"/>
<rect x="490.30" y="634.20" width="34.00" height="40.10" fill="#86b445"/>
<line x1="389.10" y1="512.10" x2="389.10" y2="674.30" stroke="#8e8e8e" stroke-width="0.8"/>
<line x1="422.60" y1="512.10" x2="422.60" y2="674.30" stroke="#8e8e8e" stroke-width="0.8"/>
<line x1="456.40" y1="512.10" x2="456.40" y2="674.30" stroke="#8e8e8e" stroke-width="0.8"/>
<line x1="490.30" y1="512.10" x2="490.30" y2="674.30" stroke="#8e8e8e" stroke-width="0.8"/>
<line x1="524.30" y1="512.10" x2="524.30" y2="674.30" stroke="#8e8e8e" stroke-width="0.8"/>
<line x1="389.10" y1="512.10" x2="524.30" y2="512.10" stroke="#8e8e8e" stroke-width="0.8"/>
<line x1="389.10" y1="552.40" x2="524.30" y2="552.40" stroke="#8e8e8e" stroke-width="0.8"/>
<line x1="389.10" y1="593.50" x2="524.30" y2="593.50" stroke="#8e8e8e" stroke-width="0.8"/>
<line x1="389.10" y1="634.20" x2="524.30" y2="634.20" stroke="#8e8e8e" stroke-width="0.8"/>
<line x1="389.10" y1="674.30" x2="524.30" y2="674.30" stroke="#8e8e8e" stroke-width="0.8"/>
<text transform="translate(405.85 535.55) scale(1 1.1)" text-anchor="middle" font-size="7.7" fill="#141414" class="t">100.0%</text>
<text transform="translate(405.85 576.25) scale(1 1.1)" text-anchor="middle" font-size="7.7" fill="#141414" class="t">2.9%</text>
<text transform="translate(439.50 576.25) scale(1 1.1)" text-anchor="middle" font-size="7.7" fill="#141414" class="t">79.6%</text>
<text transform="translate(473.35 576.25) scale(1 1.1)" text-anchor="middle" font-size="7.7" fill="#141414" class="t">16.1%</text>
<text transform="translate(507.30 576.25) scale(1 1.1)" text-anchor="middle" font-size="7.7" fill="#141414" class="t">1.5%</text>
<text transform="translate(405.85 617.15) scale(1 1.1)" text-anchor="middle" font-size="7.7" fill="#141414" class="t">7.6%</text>
<text transform="translate(439.50 617.15) scale(1 1.1)" text-anchor="middle" font-size="7.7" fill="#141414" class="t">21.5%</text>
<text transform="translate(473.35 617.15) scale(1 1.1)" text-anchor="middle" font-size="7.7" fill="#141414" class="t">67.1%</text>
<text transform="translate(507.30 617.15) scale(1 1.1)" text-anchor="middle" font-size="7.7" fill="#141414" class="t">3.8%</text>
<text transform="translate(405.85 657.55) scale(1 1.1)" text-anchor="middle" font-size="7.7" fill="#141414" class="t">3.1%</text>
<text transform="translate(473.35 657.55) scale(1 1.1)" text-anchor="middle" font-size="7.7" fill="#141414" class="t">9.4%</text>
<text transform="translate(507.30 657.55) scale(1 1.1)" text-anchor="middle" font-size="7.7" fill="#141414" class="t">87.5%</text>
<text transform="translate(385.90 535.55) scale(1 1.1)" text-anchor="end" font-size="7.7" fill="#141414" class="t">12.1</text>
<text transform="translate(385.90 576.25) scale(1 1.1)" text-anchor="end" font-size="7.7" fill="#141414" class="t">12.6</text>
<text transform="translate(385.90 617.15) scale(1 1.1)" text-anchor="end" font-size="7.7" fill="#141414" class="t">13.2</text>
<text transform="translate(385.90 657.55) scale(1 1.1)" text-anchor="end" font-size="7.7" fill="#141414" class="t">13.7</text>
<text transform="translate(405.85 685.20) scale(1 1.1)" text-anchor="middle" font-size="7.7" fill="#141414" class="t">12.1</text>
<text transform="translate(439.50 685.20) scale(1 1.1)" text-anchor="middle" font-size="7.7" fill="#141414" class="t">12.6</text>
<text transform="translate(473.35 685.20) scale(1 1.1)" text-anchor="middle" font-size="7.7" fill="#141414" class="t">13.2</text>
<text transform="translate(507.30 685.20) scale(1 1.1)" text-anchor="middle" font-size="7.7" fill="#141414" class="t">13.7</text>
<text x="452.60" y="504.90" text-anchor="middle" font-size="8.65" fill="#141414" class="t">RUSBoosted Tree</text>
<text transform="translate(364.00 503.95) scale(0.97 1.1)" font-size="13.3" fill="#000">c*</text>
<rect x="566.80" y="512.90" width="33.90" height="40.50" fill="#77ab2f"/>
<rect x="600.70" y="512.90" width="33.80" height="40.50" fill="#f2f7ec"/>
<rect x="634.50" y="512.90" width="34.00" height="40.50" fill="#ffffff"/>
<rect x="668.50" y="512.90" width="34.10" height="40.50" fill="#f2f7ec"/>
<rect x="566.80" y="553.40" width="33.90" height="40.80" fill="#f5f9f0"/>
<rect x="600.70" y="553.40" width="33.80" height="40.80" fill="#7eaf39"/>
<rect x="634.50" y="553.40" width="34.00" height="40.80" fill="#eef4e5"/>
<rect x="668.50" y="553.40" width="34.10" height="40.80" fill="#f0f6e8"/>
<rect x="566.80" y="594.20" width="33.90" height="41.30" fill="#ffffff"/>
<rect x="600.70" y="594.20" width="33.80" height="41.30" fill="#d2e3ba"/>
<rect x="634.50" y="594.20" width="34.00" height="41.30" fill="#97bf60"/>
<rect x="668.50" y="594.20" width="34.10" height="41.30" fill="#ebf3e1"/>
<rect x="566.80" y="635.50" width="33.90" height="40.30" fill="#f0f6e9"/>
<rect x="600.70" y="635.50" width="33.80" height="40.30" fill="#f0f6e9"/>
<rect x="634.50" y="635.50" width="34.00" height="40.30" fill="#f0f6e9"/>
<rect x="668.50" y="635.50" width="34.10" height="40.30" fill="#7fb03b"/>
<line x1="566.80" y1="512.90" x2="566.80" y2="675.80" stroke="#8e8e8e" stroke-width="0.8"/>
<line x1="600.70" y1="512.90" x2="600.70" y2="675.80" stroke="#8e8e8e" stroke-width="0.8"/>
<line x1="634.50" y1="512.90" x2="634.50" y2="675.80" stroke="#8e8e8e" stroke-width="0.8"/>
<line x1="668.50" y1="512.90" x2="668.50" y2="675.80" stroke="#8e8e8e" stroke-width="0.8"/>
<line x1="702.60" y1="512.90" x2="702.60" y2="675.80" stroke="#8e8e8e" stroke-width="0.8"/>
<line x1="566.80" y1="512.90" x2="702.60" y2="512.90" stroke="#8e8e8e" stroke-width="0.8"/>
<line x1="566.80" y1="553.40" x2="702.60" y2="553.40" stroke="#8e8e8e" stroke-width="0.8"/>
<line x1="566.80" y1="594.20" x2="702.60" y2="594.20" stroke="#8e8e8e" stroke-width="0.8"/>
<line x1="566.80" y1="635.50" x2="702.60" y2="635.50" stroke="#8e8e8e" stroke-width="0.8"/>
<line x1="566.80" y1="675.80" x2="702.60" y2="675.80" stroke="#8e8e8e" stroke-width="0.8"/>
<text transform="translate(583.75 536.45) scale(1 1.1)" text-anchor="middle" font-size="7.7" fill="#141414" class="t">93.9%</text>
<text transform="translate(617.60 536.45) scale(1 1.1)" text-anchor="middle" font-size="7.7" fill="#141414" class="t">3.0%</text>
<text transform="translate(685.55 536.45) scale(1 1.1)" text-anchor="middle" font-size="7.7" fill="#141414" class="t">3.0%</text>
<text transform="translate(583.75 577.10) scale(1 1.1)" text-anchor="middle" font-size="7.7" fill="#141414" class="t">1.4%</text>
<text transform="translate(617.60 577.10) scale(1 1.1)" text-anchor="middle" font-size="7.7" fill="#141414" class="t">88.6%</text>
<text transform="translate(651.50 577.10) scale(1 1.1)" text-anchor="middle" font-size="7.7" fill="#141414" class="t">5.7%</text>
<text transform="translate(685.55 577.10) scale(1 1.1)" text-anchor="middle" font-size="7.7" fill="#141414" class="t">4.3%</text>
<text transform="translate(617.60 618.15) scale(1 1.1)" text-anchor="middle" font-size="7.7" fill="#141414" class="t">24.4%</text>
<text transform="translate(651.50 618.15) scale(1 1.1)" text-anchor="middle" font-size="7.7" fill="#141414" class="t">68.3%</text>
<text transform="translate(685.55 618.15) scale(1 1.1)" text-anchor="middle" font-size="7.7" fill="#141414" class="t">7.3%</text>
<text transform="translate(583.75 658.95) scale(1 1.1)" text-anchor="middle" font-size="7.7" fill="#141414" class="t">4.2%</text>
<text transform="translate(617.60 658.95) scale(1 1.1)" text-anchor="middle" font-size="7.7" fill="#141414" class="t">4.2%</text>
<text transform="translate(651.50 658.95) scale(1 1.1)" text-anchor="middle" font-size="7.7" fill="#141414" class="t">4.2%</text>
<text transform="translate(685.55 658.95) scale(1 1.1)" text-anchor="middle" font-size="7.7" fill="#141414" class="t">87.5%</text>
<text transform="translate(563.60 536.45) scale(1 1.1)" text-anchor="end" font-size="7.7" fill="#141414" class="t">12.1</text>
<text transform="translate(563.60 577.10) scale(1 1.1)" text-anchor="end" font-size="7.7" fill="#141414" class="t">12.6</text>
<text transform="translate(563.60 618.15) scale(1 1.1)" text-anchor="end" font-size="7.7" fill="#141414" class="t">13.2</text>
<text transform="translate(563.60 658.95) scale(1 1.1)" text-anchor="end" font-size="7.7" fill="#141414" class="t">13.7</text>
<text transform="translate(583.75 686.70) scale(1 1.1)" text-anchor="middle" font-size="7.7" fill="#141414" class="t">12.1</text>
<text transform="translate(617.60 686.70) scale(1 1.1)" text-anchor="middle" font-size="7.7" fill="#141414" class="t">12.6</text>
<text transform="translate(651.50 686.70) scale(1 1.1)" text-anchor="middle" font-size="7.7" fill="#141414" class="t">13.2</text>
<text transform="translate(685.55 686.70) scale(1 1.1)" text-anchor="middle" font-size="7.7" fill="#141414" class="t">13.7</text>
<text x="634.90" y="505.30" text-anchor="middle" font-size="8.65" fill="#141414" class="t">Bagging Tree</text>
<text transform="translate(543.70 505.70) scale(0.97 1.1)" font-size="13.3" fill="#000">d*</text>
<line x1="43.80" y1="280.35" x2="43.80" y2="432.08" stroke="#ebebeb" stroke-width="0.6"/>
<line x1="34.72" y1="422.50" x2="185.98" y2="422.50" stroke="#ebebeb" stroke-width="0.6"/>
<line x1="70.50" y1="280.35" x2="70.50" y2="432.08" stroke="#ebebeb" stroke-width="0.6"/>
<line x1="34.72" y1="395.88" x2="185.98" y2="395.88" stroke="#ebebeb" stroke-width="0.6"/>
<line x1="97.20" y1="280.35" x2="97.20" y2="432.08" stroke="#ebebeb" stroke-width="0.6"/>
<line x1="34.72" y1="369.26" x2="185.98" y2="369.26" stroke="#ebebeb" stroke-width="0.6"/>
<line x1="123.90" y1="280.35" x2="123.90" y2="432.08" stroke="#ebebeb" stroke-width="0.6"/>
<line x1="34.72" y1="342.64" x2="185.98" y2="342.64" stroke="#ebebeb" stroke-width="0.6"/>
<line x1="150.60" y1="280.35" x2="150.60" y2="432.08" stroke="#ebebeb" stroke-width="0.6"/>
<line x1="34.72" y1="316.02" x2="185.98" y2="316.02" stroke="#ebebeb" stroke-width="0.6"/>
<line x1="177.30" y1="280.35" x2="177.30" y2="432.08" stroke="#ebebeb" stroke-width="0.6"/>
<line x1="34.72" y1="289.40" x2="185.98" y2="289.40" stroke="#ebebeb" stroke-width="0.6"/>
<polyline points="34.72,280.35 34.72,432.08 185.98,432.08" fill="none" stroke="#a0a0a0" stroke-width="0.8"/>
<line x1="34.72" y1="422.50" x2="36.02" y2="422.50" stroke="#a0a0a0" stroke-width="0.6"/>
<line x1="43.80" y1="432.08" x2="43.80" y2="430.78" stroke="#a0a0a0" stroke-width="0.6"/>
<line x1="34.72" y1="395.88" x2="36.02" y2="395.88" stroke="#a0a0a0" stroke-width="0.6"/>
<line x1="70.50" y1="432.08" x2="70.50" y2="430.78" stroke="#a0a0a0" stroke-width="0.6"/>
<line x1="34.72" y1="369.26" x2="36.02" y2="369.26" stroke="#a0a0a0" stroke-width="0.6"/>
<line x1="97.20" y1="432.08" x2="97.20" y2="430.78" stroke="#a0a0a0" stroke-width="0.6"/>
<line x1="34.72" y1="342.64" x2="36.02" y2="342.64" stroke="#a0a0a0" stroke-width="0.6"/>
<line x1="123.90" y1="432.08" x2="123.90" y2="430.78" stroke="#a0a0a0" stroke-width="0.6"/>
<line x1="34.72" y1="316.02" x2="36.02" y2="316.02" stroke="#a0a0a0" stroke-width="0.6"/>
<line x1="150.60" y1="432.08" x2="150.60" y2="430.78" stroke="#a0a0a0" stroke-width="0.6"/>
<line x1="34.72" y1="289.40" x2="36.02" y2="289.40" stroke="#a0a0a0" stroke-width="0.6"/>
<line x1="177.30" y1="432.08" x2="177.30" y2="430.78" stroke="#a0a0a0" stroke-width="0.6"/>
<text transform="translate(32.22 425.45) scale(1.0 1.1)" text-anchor="end" font-size="7.6" fill="#141414" class="t">0</text>
<text transform="translate(43.80 442.18) scale(1.0 1.1)" text-anchor="middle" font-size="7.6" fill="#141414" class="t">0</text>
<text transform="translate(32.22 398.83) scale(1.0 1.1)" text-anchor="end" font-size="7.6" fill="#141414" class="t">0.2</text>
<text transform="translate(70.50 442.18) scale(1.0 1.1)" text-anchor="middle" font-size="7.6" fill="#141414" class="t">0.2</text>
<text transform="translate(32.22 372.21) scale(1.0 1.1)" text-anchor="end" font-size="7.6" fill="#141414" class="t">0.4</text>
<text transform="translate(97.20 442.18) scale(1.0 1.1)" text-anchor="middle" font-size="7.6" fill="#141414" class="t">0.4</text>
<text transform="translate(32.22 345.59) scale(1.0 1.1)" text-anchor="end" font-size="7.6" fill="#141414" class="t">0.6</text>
<text transform="translate(123.90 442.18) scale(1.0 1.1)" text-anchor="middle" font-size="7.6" fill="#141414" class="t">0.6</text>
<text transform="translate(32.22 318.97) scale(1.0 1.1)" text-anchor="end" font-size="7.6" fill="#141414" class="t">0.8</text>
<text transform="translate(150.60 442.18) scale(1.0 1.1)" text-anchor="middle" font-size="7.6" fill="#141414" class="t">0.8</text>
<text transform="translate(32.22 292.35) scale(1.0 1.1)" text-anchor="end" font-size="7.6" fill="#141414" class="t">1</text>
<text transform="translate(177.30 442.18) scale(1.0 1.1)" text-anchor="middle" font-size="7.6" fill="#141414" class="t">1</text>
<line x1="43.80" y1="422.50" x2="177.30" y2="289.40" stroke="#2a2a2a" stroke-width="0.5"/>
<polyline points="43.80,422.50 44.20,362.61 44.55,354.62 44.73,328.00 45.80,323.47 46.14,312.29 47.35,306.70 76.91,306.70 77.44,304.84 77.84,302.44 105.34,302.31 105.34,298.05 140.72,298.05 140.72,293.39 165.95,293.39 165.95,289.67 177.30,289.40" fill="none" stroke="#0072BD" stroke-width="1.1" stroke-linejoin="round"/>
<polyline points="43.80,422.50 44.73,396.55 44.73,394.37 44.96,394.37 44.96,392.19 45.19,392.19 45.19,390.02 45.42,390.02 45.42,387.84 45.65,387.84 45.65,385.66 45.87,385.66 45.87,383.49 46.10,383.49 46.10,381.31 46.33,381.31 46.33,379.13 46.56,379.13 46.56,376.96 46.78,376.96 46.78,374.78 47.01,374.78 47.01,372.60 47.24,372.60 47.24,370.43 47.47,370.43 47.47,368.25 47.70,368.25 47.70,366.07 47.92,366.07 47.92,363.90 48.15,363.90 48.15,361.72 48.38,361.72 48.38,359.54 48.61,359.54 49.54,359.28 50.34,356.22 51.28,354.89 52.21,348.76 52.21,346.54 52.83,346.54 52.83,344.33 53.46,344.33 53.46,342.11 54.08,342.11 54.08,339.78 55.01,339.78 55.01,337.45 55.95,337.45 55.95,335.12 56.52,335.12 56.52,332.79 57.08,332.79 57.08,330.46 57.65,330.46 57.65,328.13 58.22,328.13 58.22,326.89 59.64,326.89 59.64,325.65 61.07,325.65 61.07,324.41 62.49,324.41 62.49,322.54 64.05,322.54 64.05,320.68 65.60,320.68 65.60,318.82 67.16,318.82 67.16,316.95 68.41,316.95 68.41,315.09 69.65,315.09 69.65,313.22 70.90,313.22 70.90,311.36 71.83,311.36 71.83,309.50 72.77,309.50 72.77,307.63 73.70,307.63 73.70,305.77 74.84,305.77 74.84,303.91 75.97,303.91 75.97,302.71 77.64,302.71 77.64,301.51 79.31,301.51 79.31,299.65 80.91,299.65 80.91,297.79 82.51,297.79 88.66,296.85 88.66,295.72 90.53,295.72 90.53,294.59 92.39,294.59 98.00,293.66 100.00,293.26 100.00,293.11 102.20,293.11 102.20,292.96 104.40,292.96 104.40,292.81 106.60,292.81 106.60,292.66 108.80,292.66 108.80,292.51 111.00,292.51 111.00,292.35 113.19,292.35 113.19,292.20 115.39,292.20 115.39,292.05 117.59,292.05 117.59,291.90 119.79,291.90 119.79,291.75 121.99,291.75 121.99,291.60 124.18,291.60 124.18,291.45 126.38,291.45 126.38,291.30 128.58,291.30 128.58,291.15 130.78,291.15 130.78,291.00 132.98,291.00 148.33,290.07 150.60,289.67 177.30,289.40" fill="none" stroke="#D95319" stroke-width="1.1" stroke-linejoin="round"/>
<polyline points="43.80,422.50 44.47,402.53 44.47,400.32 44.60,400.32 44.60,398.10 44.73,398.10 44.73,395.88 44.87,395.88 44.87,393.66 45.00,393.66 45.00,391.44 45.13,391.44 45.13,389.22 45.27,389.22 45.27,387.01 45.40,387.01 45.40,384.79 45.54,384.79 45.54,382.57 45.67,382.57 45.67,380.35 45.80,380.35 45.80,378.13 45.94,378.13 45.94,375.91 46.07,375.91 46.07,373.70 46.20,373.70 46.20,371.48 46.34,371.48 46.34,369.26 46.47,369.26 46.47,367.21 46.68,367.21 46.68,365.15 46.89,365.15 46.89,363.10 47.10,363.10 47.10,361.05 47.31,361.05 47.31,358.99 47.52,358.99 47.52,356.94 47.73,356.94 47.73,354.89 47.94,354.89 47.94,352.89 48.31,352.89 48.31,350.89 48.67,350.89 48.67,348.90 49.04,348.90 49.04,346.90 49.41,346.90 49.41,344.73 50.03,344.73 50.03,342.55 50.65,342.55 50.65,340.38 51.28,340.38 51.28,338.25 51.61,338.25 51.61,336.12 51.94,336.12 51.94,333.99 52.28,333.99 52.28,331.86 52.61,331.86 55.01,330.93 55.01,328.60 56.15,328.60 56.15,326.27 57.28,326.27 57.28,324.21 58.69,324.21 58.69,322.14 60.09,322.14 60.09,320.94 61.76,320.94 61.76,319.75 63.42,319.75 63.42,317.88 65.29,317.88 65.29,316.02 67.16,316.02 67.16,314.78 68.72,314.78 68.72,313.54 70.28,313.54 70.28,312.29 71.83,312.29 71.83,311.05 73.39,311.05 73.39,309.81 74.95,309.81 74.95,308.57 76.51,308.57 76.51,306.70 78.38,306.70 78.38,304.84 80.25,304.84 80.25,304.11 82.05,304.11 82.05,303.38 83.85,303.38 83.85,302.44 86.07,302.44 86.07,301.51 88.30,301.51 88.30,300.58 90.52,300.58 90.52,300.11 92.39,300.11 92.39,299.65 94.26,299.65 94.26,299.18 96.13,299.18 96.13,298.72 98.00,298.72 100.00,298.45 100.00,297.95 102.14,297.95 102.14,297.44 104.28,297.44 104.28,296.93 106.41,296.93 106.41,296.43 108.55,296.43 108.55,295.92 110.68,295.92 110.68,295.60 112.99,295.60 112.99,295.28 115.30,295.28 115.30,294.95 117.61,294.95 117.61,294.63 119.91,294.63 119.91,294.31 122.22,294.31 122.22,293.98 124.53,293.98 124.53,293.66 126.84,293.66 126.84,293.43 129.13,293.43 129.13,293.20 131.41,293.20 131.41,292.97 133.70,292.97 133.70,292.75 135.99,292.75 135.99,292.52 138.28,292.52 138.28,292.29 140.57,292.29 140.57,292.06 142.86,292.06 142.86,291.53 145.35,291.53 145.35,291.00 147.84,291.00 147.84,290.46 150.33,290.46 163.95,289.80 177.30,289.40" fill="none" stroke="#EDB120" stroke-width="1.1" stroke-linejoin="round"/>
<polyline points="43.80,422.50 44.47,382.57 45.54,362.21 46.47,353.42 51.54,353.42 51.68,348.76 53.14,343.17 53.55,342.11 62.89,342.11 62.89,331.86 70.50,331.86 70.50,326.27 72.24,326.27 72.24,321.21 84.38,321.21 84.38,316.02 103.74,316.02 103.74,305.51 108.55,305.51 108.55,300.18 142.86,300.18 142.86,294.32 149.26,294.32 149.26,289.67 177.30,289.40" fill="none" stroke="#7E2F8E" stroke-width="1.1" stroke-linejoin="round"/>
<rect x="92.60" y="386.30" width="91.50" height="42.00" fill="#fff" stroke="#e2e2e2" stroke-width="0.6"/>
<line x1="96.90" y1="392.20" x2="109.40" y2="392.20" stroke="#0072BD" stroke-width="0.95"/>
<text transform="translate(110.40 394.95) scale(1.0 1.07)" font-size="7.5" fill="#141414" class="t">12.1 (AUC = 0.918)</text>
<line x1="96.90" y1="402.30" x2="109.40" y2="402.30" stroke="#D95319" stroke-width="0.95"/>
<text transform="translate(110.40 405.05) scale(1.0 1.07)" font-size="7.5" fill="#141414" class="t">12.6 (AUC = 0.8941)</text>
<line x1="96.90" y1="412.40" x2="109.40" y2="412.40" stroke="#EDB120" stroke-width="0.95"/>
<text transform="translate(110.40 415.15) scale(1.0 1.07)" font-size="7.5" fill="#141414" class="t">13.2 (AUC = 0.8894)</text>
<line x1="96.90" y1="422.50" x2="109.40" y2="422.50" stroke="#7E2F8E" stroke-width="0.95"/>
<text transform="translate(110.40 425.25) scale(1.0 1.07)" font-size="7.5" fill="#141414" class="t">13.7 (AUC = 0.8355)</text>
<text x="110.55" y="278.65" text-anchor="middle" font-family="'Liberation Serif', 'Times New Roman', serif" font-weight="bold" font-size="8.2" fill="#000">Boosting tree</text>
<text x="110.55" y="451.83" text-anchor="middle" font-family="'Liberation Serif', 'Times New Roman', serif" font-weight="bold" font-size="7.9" fill="#000">FPR</text>
<text x="18.72" y="355.95" text-anchor="middle" font-family="'Liberation Serif', 'Times New Roman', serif" font-weight="bold" font-size="7.9" fill="#000" transform="rotate(-90 18.72 355.95)">TPR</text>
<text transform="translate(20.34 271.90) scale(0.97 1.1)" font-size="13.3" fill="#000">a</text>
<line x1="222.40" y1="279.48" x2="222.40" y2="430.75" stroke="#ebebeb" stroke-width="0.6"/>
<line x1="213.41" y1="421.20" x2="363.19" y2="421.20" stroke="#ebebeb" stroke-width="0.6"/>
<line x1="248.84" y1="279.48" x2="248.84" y2="430.75" stroke="#ebebeb" stroke-width="0.6"/>
<line x1="213.41" y1="394.66" x2="363.19" y2="394.66" stroke="#ebebeb" stroke-width="0.6"/>
<line x1="275.28" y1="279.48" x2="275.28" y2="430.75" stroke="#ebebeb" stroke-width="0.6"/>
<line x1="213.41" y1="368.12" x2="363.19" y2="368.12" stroke="#ebebeb" stroke-width="0.6"/>
<line x1="301.72" y1="279.48" x2="301.72" y2="430.75" stroke="#ebebeb" stroke-width="0.6"/>
<line x1="213.41" y1="341.58" x2="363.19" y2="341.58" stroke="#ebebeb" stroke-width="0.6"/>
<line x1="328.16" y1="279.48" x2="328.16" y2="430.75" stroke="#ebebeb" stroke-width="0.6"/>
<line x1="213.41" y1="315.04" x2="363.19" y2="315.04" stroke="#ebebeb" stroke-width="0.6"/>
<line x1="354.60" y1="279.48" x2="354.60" y2="430.75" stroke="#ebebeb" stroke-width="0.6"/>
<line x1="213.41" y1="288.50" x2="363.19" y2="288.50" stroke="#ebebeb" stroke-width="0.6"/>
<polyline points="213.41,279.48 213.41,430.75 363.19,430.75" fill="none" stroke="#a0a0a0" stroke-width="0.8"/>
<line x1="213.41" y1="421.20" x2="214.71" y2="421.20" stroke="#a0a0a0" stroke-width="0.6"/>
<line x1="222.40" y1="430.75" x2="222.40" y2="429.45" stroke="#a0a0a0" stroke-width="0.6"/>
<line x1="213.41" y1="394.66" x2="214.71" y2="394.66" stroke="#a0a0a0" stroke-width="0.6"/>
<line x1="248.84" y1="430.75" x2="248.84" y2="429.45" stroke="#a0a0a0" stroke-width="0.6"/>
<line x1="213.41" y1="368.12" x2="214.71" y2="368.12" stroke="#a0a0a0" stroke-width="0.6"/>
<line x1="275.28" y1="430.75" x2="275.28" y2="429.45" stroke="#a0a0a0" stroke-width="0.6"/>
<line x1="213.41" y1="341.58" x2="214.71" y2="341.58" stroke="#a0a0a0" stroke-width="0.6"/>
<line x1="301.72" y1="430.75" x2="301.72" y2="429.45" stroke="#a0a0a0" stroke-width="0.6"/>
<line x1="213.41" y1="315.04" x2="214.71" y2="315.04" stroke="#a0a0a0" stroke-width="0.6"/>
<line x1="328.16" y1="430.75" x2="328.16" y2="429.45" stroke="#a0a0a0" stroke-width="0.6"/>
<line x1="213.41" y1="288.50" x2="214.71" y2="288.50" stroke="#a0a0a0" stroke-width="0.6"/>
<line x1="354.60" y1="430.75" x2="354.60" y2="429.45" stroke="#a0a0a0" stroke-width="0.6"/>
<text transform="translate(210.91 424.15) scale(1.0 1.1)" text-anchor="end" font-size="7.6" fill="#141414" class="t">0</text>
<text transform="translate(222.40 440.85) scale(1.0 1.1)" text-anchor="middle" font-size="7.6" fill="#141414" class="t">0</text>
<text transform="translate(210.91 397.61) scale(1.0 1.1)" text-anchor="end" font-size="7.6" fill="#141414" class="t">0.2</text>
<text transform="translate(248.84 440.85) scale(1.0 1.1)" text-anchor="middle" font-size="7.6" fill="#141414" class="t">0.2</text>
<text transform="translate(210.91 371.07) scale(1.0 1.1)" text-anchor="end" font-size="7.6" fill="#141414" class="t">0.4</text>
<text transform="translate(275.28 440.85) scale(1.0 1.1)" text-anchor="middle" font-size="7.6" fill="#141414" class="t">0.4</text>
<text transform="translate(210.91 344.53) scale(1.0 1.1)" text-anchor="end" font-size="7.6" fill="#141414" class="t">0.6</text>
<text transform="translate(301.72 440.85) scale(1.0 1.1)" text-anchor="middle" font-size="7.6" fill="#141414" class="t">0.6</text>
<text transform="translate(210.91 317.99) scale(1.0 1.1)" text-anchor="end" font-size="7.6" fill="#141414" class="t">0.8</text>
<text transform="translate(328.16 440.85) scale(1.0 1.1)" text-anchor="middle" font-size="7.6" fill="#141414" class="t">0.8</text>
<text transform="translate(210.91 291.45) scale(1.0 1.1)" text-anchor="end" font-size="7.6" fill="#141414" class="t">1</text>
<text transform="translate(354.60 440.85) scale(1.0 1.1)" text-anchor="middle" font-size="7.6" fill="#141414" class="t">1</text>
<line x1="222.40" y1="421.20" x2="354.60" y2="288.50" stroke="#2a2a2a" stroke-width="0.5"/>
<polyline points="222.50,420.06 222.50,390.97 223.63,386.28 224.76,366.57 225.88,362.82 226.26,354.00 226.26,343.30 229.45,343.30 229.45,327.54 230.39,327.16 230.39,319.66 232.26,319.09 232.26,304.08 235.27,304.08 235.27,296.20 249.34,296.20 249.34,288.32 354.62,288.13" fill="none" stroke="#0072BD" stroke-width="1.1" stroke-linejoin="round"/>
<polyline points="222.50,420.06 223.16,402.42 223.16,400.35 223.42,400.35 223.42,398.29 223.68,398.29 223.68,396.22 223.94,396.22 223.94,394.16 224.20,394.16 224.20,392.10 224.46,392.10 224.46,389.81 224.74,389.81 224.74,387.53 225.02,387.53 225.02,385.25 225.31,385.25 225.31,382.96 225.59,382.96 225.59,380.68 225.88,380.68 225.88,378.40 226.16,378.40 227.01,374.08 227.01,372.16 227.55,372.16 227.55,370.23 228.10,370.23 228.10,368.31 228.64,368.31 228.64,366.39 229.18,366.39 229.18,364.63 229.75,364.63 229.75,362.88 230.32,362.88 230.32,361.13 230.89,361.13 230.89,358.60 231.95,358.60 231.95,356.06 233.01,356.06 233.01,354.31 233.74,354.31 233.74,352.56 234.46,352.56 234.46,350.81 235.19,350.81 235.19,348.74 236.77,348.74 236.77,347.34 238.64,347.34 238.64,345.93 240.52,345.93 240.90,340.30 240.90,338.11 241.40,338.11 241.40,335.92 241.90,335.92 241.90,333.73 242.40,333.73 242.40,331.85 243.65,331.85 243.65,329.98 244.90,329.98 244.90,328.10 246.15,328.10 246.15,326.69 248.50,326.69 248.50,325.29 250.84,325.29 250.84,323.88 252.25,323.88 252.25,322.47 253.66,322.47 253.66,321.06 255.06,321.06 255.06,319.66 256.47,319.66 260.22,318.72 261.16,314.96 261.16,313.09 262.57,313.09 262.57,311.21 263.98,311.21 263.98,309.33 265.39,309.33 265.39,307.46 266.79,307.46 266.79,306.05 267.73,306.05 267.73,304.64 268.67,304.64 269.05,299.95 269.05,298.07 270.27,298.07 270.27,296.20 271.48,296.20 271.48,295.07 274.30,295.07 281.81,294.32 281.81,293.38 283.21,293.38 283.21,292.44 284.62,292.44 284.62,291.69 286.31,291.69 286.31,290.94 288.00,290.94 293.07,290.57 298.70,289.63 311.83,289.25 317.46,288.69 354.62,288.13" fill="none" stroke="#D95319" stroke-width="1.1" stroke-linejoin="round"/>
<polyline points="222.50,420.06 222.50,417.78 222.66,417.78 222.66,415.50 222.81,415.50 222.81,413.22 222.97,413.22 222.97,410.94 223.13,410.94 223.13,408.66 223.28,408.66 223.28,406.39 223.44,406.39 223.44,404.11 223.59,404.11 223.59,401.81 223.93,401.81 223.93,399.52 224.26,399.52 224.26,397.23 224.59,397.23 224.59,394.93 224.93,394.93 224.93,392.64 225.26,392.64 225.26,390.34 225.59,390.34 225.59,388.05 225.93,388.05 225.93,385.76 226.26,385.76 226.26,383.46 226.60,383.46 226.60,381.21 227.46,381.21 227.46,378.96 228.32,378.96 228.32,376.71 229.18,376.71 229.18,374.46 229.70,374.46 229.70,372.20 230.21,372.20 230.21,369.95 230.73,369.95 230.73,367.70 231.24,367.70 231.24,365.45 231.76,365.45 231.76,363.30 232.12,363.30 232.12,361.16 232.48,361.16 232.48,359.02 232.84,359.02 232.84,356.88 233.19,356.88 233.19,354.73 233.55,354.73 233.55,352.59 233.91,352.59 233.91,350.51 234.18,350.51 234.18,348.43 234.45,348.43 234.45,346.34 234.72,346.34 234.72,344.26 235.00,344.26 235.00,342.18 235.27,342.18 235.27,339.99 236.08,339.99 236.08,337.80 236.89,337.80 236.89,335.61 237.70,335.61 240.52,335.05 240.52,332.79 242.77,332.79 242.77,330.92 244.46,330.92 244.46,329.04 246.15,329.04 246.15,327.63 248.03,327.63 248.03,326.22 249.90,326.22 249.90,324.82 251.50,324.82 251.50,323.41 253.09,323.41 253.09,321.53 253.70,321.53 253.70,319.66 254.31,319.66 254.31,317.78 254.92,317.78 254.92,315.90 255.53,315.90 255.53,314.96 256.94,314.96 256.94,314.03 258.35,314.03 258.35,311.68 259.76,311.68 259.76,309.33 261.16,309.33 261.16,307.65 262.57,307.65 262.57,305.96 263.98,305.96 263.98,304.83 265.39,304.83 265.39,303.70 266.79,303.70 266.79,302.77 268.20,302.77 268.20,301.83 269.61,301.83 273.36,300.89 273.36,299.39 275.24,299.39 275.24,298.73 277.11,298.73 277.11,298.07 278.99,298.07 282.74,297.14 283.68,294.32 283.68,293.57 285.84,293.57 285.84,292.82 288.00,292.82 288.00,292.07 289.69,292.07 289.69,291.32 291.38,291.32 291.38,290.57 293.07,290.57 300.57,289.63 317.46,289.25 317.46,289.19 319.65,289.19 319.65,289.12 321.83,289.12 321.83,289.06 324.02,289.06 324.02,288.99 326.21,288.99 326.21,288.92 328.39,288.92 328.39,288.86 330.58,288.86 330.58,288.79 332.76,288.79 332.76,288.72 334.95,288.72 334.95,288.66 337.14,288.66 337.14,288.59 339.32,288.59 339.32,288.53 341.51,288.53 341.51,288.46 343.69,288.46 343.69,288.39 345.88,288.39 345.88,288.33 348.06,288.33 348.06,288.26 350.25,288.26 350.25,288.19 352.44,288.19 352.44,288.13 354.62,288.13" fill="none" stroke="#EDB120" stroke-width="1.1" stroke-linejoin="round"/>
<polyline points="222.50,420.06 222.73,402.42 223.59,393.88 225.73,393.03 225.73,364.64 228.32,364.21 228.32,354.75 240.90,354.75 240.90,345.37 247.09,345.37 247.09,326.60 255.53,326.22 255.53,317.22 259.29,316.84 259.29,307.46 262.48,306.90 262.48,298.07 299.63,298.07 299.63,288.13 354.62,288.13" fill="none" stroke="#7E2F8E" stroke-width="1.1" stroke-linejoin="round"/>
<rect x="269.70" y="385.40" width="91.50" height="40.80" fill="#fff" stroke="#e2e2e2" stroke-width="0.6"/>
<line x1="274.40" y1="391.40" x2="286.40" y2="391.40" stroke="#0072BD" stroke-width="0.95"/>
<text transform="translate(288.10 394.15) scale(1.0 1.07)" font-size="7.42" fill="#141414" class="t">12.1 (AUC = 0.9566)</text>
<line x1="274.40" y1="401.35" x2="286.40" y2="401.35" stroke="#D95319" stroke-width="0.95"/>
<text transform="translate(288.10 404.10) scale(1.0 1.07)" font-size="7.42" fill="#141414" class="t">12.6 (AUC = 0.8556)</text>
<line x1="274.40" y1="411.30" x2="286.40" y2="411.30" stroke="#EDB120" stroke-width="0.95"/>
<text transform="translate(288.10 414.05) scale(1.0 1.07)" font-size="7.42" fill="#141414" class="t">13.2 (AUC = 0.8563)</text>
<line x1="274.40" y1="421.25" x2="286.40" y2="421.25" stroke="#7E2F8E" stroke-width="0.95"/>
<text transform="translate(288.10 424.00) scale(1.0 1.07)" font-size="7.42" fill="#141414" class="t">13.7 (AUC = 0.8528)</text>
<text x="288.50" y="277.78" text-anchor="middle" font-family="'Liberation Serif', 'Times New Roman', serif" font-weight="bold" font-size="8.2" fill="#000">SVC</text>
<text x="288.50" y="450.50" text-anchor="middle" font-family="'Liberation Serif', 'Times New Roman', serif" font-weight="bold" font-size="7.9" fill="#000">FPR</text>
<text x="197.41" y="354.85" text-anchor="middle" font-family="'Liberation Serif', 'Times New Roman', serif" font-weight="bold" font-size="7.9" fill="#000" transform="rotate(-90 197.41 354.85)">TPR</text>
<text transform="translate(197.30 271.80) scale(0.97 1.1)" font-size="13.3" fill="#000">b</text>
<line x1="397.90" y1="280.14" x2="397.90" y2="435.41" stroke="#ebebeb" stroke-width="0.6"/>
<line x1="388.66" y1="425.60" x2="542.63" y2="425.60" stroke="#ebebeb" stroke-width="0.6"/>
<line x1="425.08" y1="280.14" x2="425.08" y2="435.41" stroke="#ebebeb" stroke-width="0.6"/>
<line x1="388.66" y1="398.36" x2="542.63" y2="398.36" stroke="#ebebeb" stroke-width="0.6"/>
<line x1="452.26" y1="280.14" x2="452.26" y2="435.41" stroke="#ebebeb" stroke-width="0.6"/>
<line x1="388.66" y1="371.12" x2="542.63" y2="371.12" stroke="#ebebeb" stroke-width="0.6"/>
<line x1="479.44" y1="280.14" x2="479.44" y2="435.41" stroke="#ebebeb" stroke-width="0.6"/>
<line x1="388.66" y1="343.88" x2="542.63" y2="343.88" stroke="#ebebeb" stroke-width="0.6"/>
<line x1="506.62" y1="280.14" x2="506.62" y2="435.41" stroke="#ebebeb" stroke-width="0.6"/>
<line x1="388.66" y1="316.64" x2="542.63" y2="316.64" stroke="#ebebeb" stroke-width="0.6"/>
<line x1="533.80" y1="280.14" x2="533.80" y2="435.41" stroke="#ebebeb" stroke-width="0.6"/>
<line x1="388.66" y1="289.40" x2="542.63" y2="289.40" stroke="#ebebeb" stroke-width="0.6"/>
<polyline points="388.66,280.14 388.66,435.41 542.63,435.41" fill="none" stroke="#a0a0a0" stroke-width="0.8"/>
<line x1="388.66" y1="425.60" x2="389.96" y2="425.60" stroke="#a0a0a0" stroke-width="0.6"/>
<line x1="397.90" y1="435.41" x2="397.90" y2="434.11" stroke="#a0a0a0" stroke-width="0.6"/>
<line x1="388.66" y1="398.36" x2="389.96" y2="398.36" stroke="#a0a0a0" stroke-width="0.6"/>
<line x1="425.08" y1="435.41" x2="425.08" y2="434.11" stroke="#a0a0a0" stroke-width="0.6"/>
<line x1="388.66" y1="371.12" x2="389.96" y2="371.12" stroke="#a0a0a0" stroke-width="0.6"/>
<line x1="452.26" y1="435.41" x2="452.26" y2="434.11" stroke="#a0a0a0" stroke-width="0.6"/>
<line x1="388.66" y1="343.88" x2="389.96" y2="343.88" stroke="#a0a0a0" stroke-width="0.6"/>
<line x1="479.44" y1="435.41" x2="479.44" y2="434.11" stroke="#a0a0a0" stroke-width="0.6"/>
<line x1="388.66" y1="316.64" x2="389.96" y2="316.64" stroke="#a0a0a0" stroke-width="0.6"/>
<line x1="506.62" y1="435.41" x2="506.62" y2="434.11" stroke="#a0a0a0" stroke-width="0.6"/>
<line x1="388.66" y1="289.40" x2="389.96" y2="289.40" stroke="#a0a0a0" stroke-width="0.6"/>
<line x1="533.80" y1="435.41" x2="533.80" y2="434.11" stroke="#a0a0a0" stroke-width="0.6"/>
<text transform="translate(386.16 428.55) scale(1.0 1.1)" text-anchor="end" font-size="7.6" fill="#141414" class="t">0</text>
<text transform="translate(397.90 445.51) scale(1.0 1.1)" text-anchor="middle" font-size="7.6" fill="#141414" class="t">0</text>
<text transform="translate(386.16 401.31) scale(1.0 1.1)" text-anchor="end" font-size="7.6" fill="#141414" class="t">0.2</text>
<text transform="translate(425.08 445.51) scale(1.0 1.1)" text-anchor="middle" font-size="7.6" fill="#141414" class="t">0.2</text>
<text transform="translate(386.16 374.07) scale(1.0 1.1)" text-anchor="end" font-size="7.6" fill="#141414" class="t">0.4</text>
<text transform="translate(452.26 445.51) scale(1.0 1.1)" text-anchor="middle" font-size="7.6" fill="#141414" class="t">0.4</text>
<text transform="translate(386.16 346.83) scale(1.0 1.1)" text-anchor="end" font-size="7.6" fill="#141414" class="t">0.6</text>
<text transform="translate(479.44 445.51) scale(1.0 1.1)" text-anchor="middle" font-size="7.6" fill="#141414" class="t">0.6</text>
<text transform="translate(386.16 319.59) scale(1.0 1.1)" text-anchor="end" font-size="7.6" fill="#141414" class="t">0.8</text>
<text transform="translate(506.62 445.51) scale(1.0 1.1)" text-anchor="middle" font-size="7.6" fill="#141414" class="t">0.8</text>
<text transform="translate(386.16 292.35) scale(1.0 1.1)" text-anchor="end" font-size="7.6" fill="#141414" class="t">1</text>
<text transform="translate(533.80 445.51) scale(1.0 1.1)" text-anchor="middle" font-size="7.6" fill="#141414" class="t">1</text>
<line x1="397.90" y1="425.60" x2="533.80" y2="289.40" stroke="#2a2a2a" stroke-width="0.5"/>
<polyline points="397.86,424.95 398.48,398.23 399.17,384.45 399.35,349.99 399.31,330.36 399.98,324.57 400.27,312.99 401.24,307.20 407.51,307.20 407.51,295.13 420.54,295.13 420.54,289.34 533.37,289.25" fill="none" stroke="#0072BD" stroke-width="1.1" stroke-linejoin="round"/>
<polyline points="397.86,424.95 397.86,422.78 398.52,422.78 398.52,420.62 399.17,420.62 400.02,410.28 400.89,403.38 401.59,382.73 401.59,380.43 402.07,380.43 402.07,378.14 402.56,378.14 402.56,375.84 403.05,375.84 403.05,373.82 403.77,373.82 403.77,371.81 404.48,371.81 404.48,369.80 405.20,369.80 405.20,367.79 405.77,367.79 405.77,365.78 406.34,365.78 406.34,363.77 406.91,363.77 406.91,361.62 407.24,361.62 407.24,359.47 407.56,359.47 407.56,357.32 407.88,357.32 407.88,355.17 408.21,355.17 408.21,353.52 409.44,353.52 409.92,340.98 410.89,326.50 411.86,321.68 411.86,319.75 412.66,319.75 412.66,317.81 413.46,317.81 413.46,315.88 414.27,315.88 414.27,313.47 415.47,313.47 415.47,311.06 416.68,311.06 416.68,309.37 418.37,309.37 418.37,307.68 420.06,307.68 420.06,306.55 421.67,306.55 421.67,305.43 423.28,305.43 423.28,304.30 424.88,304.30 424.88,302.61 426.33,302.61 426.33,300.92 427.78,300.92 432.61,299.96 439.36,299.48 441.29,298.51 441.29,298.03 443.54,298.03 443.54,297.55 445.80,297.55 445.80,297.06 448.05,297.06 453.84,296.58 453.84,296.22 455.77,296.22 455.77,295.86 457.70,295.86 457.70,295.50 459.63,295.50 459.63,295.13 461.56,295.13 461.56,294.41 463.78,294.41 463.78,293.69 466.00,293.69 466.00,293.01 468.61,293.01 468.61,292.34 471.21,292.34 471.21,292.05 473.14,292.05 473.14,291.76 475.07,291.76 475.07,291.47 477.00,291.47 477.00,291.18 478.93,291.18 490.51,290.79 502.10,289.83 509.82,289.25 533.37,289.25" fill="none" stroke="#D95319" stroke-width="1.1" stroke-linejoin="round"/>
<polyline points="397.86,424.95 397.86,413.75 398.73,401.59 399.17,387.03 400.02,371.53 400.89,365.49 400.89,363.34 401.75,363.34 401.75,361.19 402.61,361.19 402.61,359.18 403.18,359.18 403.18,357.17 403.75,357.17 403.75,355.17 404.33,355.17 405.20,349.99 406.06,347.73 406.06,345.48 406.87,345.48 406.87,343.23 407.67,343.23 407.67,340.98 408.48,340.98 408.48,339.05 409.20,339.05 409.20,337.12 409.92,337.12 410.89,325.54 410.89,324.09 412.10,324.09 412.10,322.64 413.30,322.64 413.30,321.19 415.23,321.19 415.23,319.75 417.16,319.75 417.16,317.81 417.81,317.81 417.81,315.88 418.45,315.88 418.45,313.95 419.09,313.95 419.09,312.99 421.02,312.99 421.02,312.02 422.95,312.02 422.95,310.58 424.40,310.58 424.40,309.13 425.85,309.13 425.85,308.16 427.78,308.16 427.78,307.20 429.71,307.20 429.71,306.23 431.16,306.23 431.16,305.27 432.61,305.27 442.26,304.79 451.91,303.82 451.91,302.86 453.84,302.86 453.84,301.89 455.77,301.89 460.59,300.92 460.59,299.48 461.56,299.48 461.56,298.03 462.52,298.03 466.00,297.55 471.21,296.97 471.21,296.63 473.62,296.63 473.62,296.29 476.04,296.29 476.04,295.95 478.45,295.95 478.45,295.62 480.86,295.62 480.86,295.28 483.28,295.28 483.28,294.94 485.69,294.94 485.69,294.60 488.10,294.60 488.10,294.27 490.51,294.27 490.51,293.96 492.83,293.96 492.83,293.65 495.15,293.65 495.15,293.34 497.46,293.34 497.46,293.03 499.78,293.03 499.78,292.72 502.10,292.72 513.68,291.76 517.54,290.79 525.26,290.40 525.26,290.12 527.29,290.12 527.29,289.83 529.31,289.83 529.31,289.54 531.34,289.54 531.34,289.25 533.37,289.25" fill="none" stroke="#EDB120" stroke-width="1.1" stroke-linejoin="round"/>
<polyline points="397.86,424.95 398.48,410.28 399.17,398.23 400.47,398.23 400.89,371.52 402.61,370.67 402.49,357.58 434.54,357.39 434.54,330.17 448.53,330.17 448.53,316.37 454.32,316.37 454.32,302.57 533.37,302.57 533.37,289.25" fill="none" stroke="#7E2F8E" stroke-width="1.1" stroke-linejoin="round"/>
<rect x="444.20" y="388.60" width="96.90" height="42.30" fill="#fff" stroke="#e2e2e2" stroke-width="0.6"/>
<line x1="450.10" y1="394.30" x2="462.80" y2="394.30" stroke="#0072BD" stroke-width="0.95"/>
<text transform="translate(464.20 397.05) scale(1.0 1.07)" font-size="7.6" fill="#141414" class="t">12.1 (AUC = 0.9773)</text>
<line x1="450.10" y1="404.60" x2="462.80" y2="404.60" stroke="#D95319" stroke-width="0.95"/>
<text transform="translate(464.20 407.35) scale(1.0 1.07)" font-size="7.6" fill="#141414" class="t">12.6 (AUC = 0.8905)</text>
<line x1="450.10" y1="414.90" x2="462.80" y2="414.90" stroke="#EDB120" stroke-width="0.95"/>
<text transform="translate(464.20 417.65) scale(1.0 1.07)" font-size="7.6" fill="#141414" class="t">13.2 (AUC = 0.8754)</text>
<line x1="450.10" y1="425.20" x2="462.80" y2="425.20" stroke="#7E2F8E" stroke-width="0.95"/>
<text transform="translate(464.20 427.95) scale(1.0 1.07)" font-size="7.6" fill="#141414" class="t">13.7 (AUC = 0.7583)</text>
<text x="465.85" y="278.44" text-anchor="middle" font-family="'Liberation Serif', 'Times New Roman', serif" font-weight="bold" font-size="8.2" fill="#000">SVC</text>
<text x="465.85" y="455.16" text-anchor="middle" font-family="'Liberation Serif', 'Times New Roman', serif" font-weight="bold" font-size="7.9" fill="#000">FPR</text>
<text x="372.66" y="357.50" text-anchor="middle" font-family="'Liberation Serif', 'Times New Roman', serif" font-weight="bold" font-size="7.9" fill="#000" transform="rotate(-90 372.66 357.50)">TPR</text>
<text transform="translate(365.14 271.75) scale(0.97 1.1)" font-size="13.3" fill="#000">c</text>
<line x1="574.20" y1="279.75" x2="574.20" y2="433.19" stroke="#ebebeb" stroke-width="0.6"/>
<line x1="565.05" y1="423.50" x2="717.44" y2="423.50" stroke="#ebebeb" stroke-width="0.6"/>
<line x1="601.10" y1="279.75" x2="601.10" y2="433.19" stroke="#ebebeb" stroke-width="0.6"/>
<line x1="565.05" y1="396.58" x2="717.44" y2="396.58" stroke="#ebebeb" stroke-width="0.6"/>
<line x1="628.00" y1="279.75" x2="628.00" y2="433.19" stroke="#ebebeb" stroke-width="0.6"/>
<line x1="565.05" y1="369.66" x2="717.44" y2="369.66" stroke="#ebebeb" stroke-width="0.6"/>
<line x1="654.90" y1="279.75" x2="654.90" y2="433.19" stroke="#ebebeb" stroke-width="0.6"/>
<line x1="565.05" y1="342.74" x2="717.44" y2="342.74" stroke="#ebebeb" stroke-width="0.6"/>
<line x1="681.80" y1="279.75" x2="681.80" y2="433.19" stroke="#ebebeb" stroke-width="0.6"/>
<line x1="565.05" y1="315.82" x2="717.44" y2="315.82" stroke="#ebebeb" stroke-width="0.6"/>
<line x1="708.70" y1="279.75" x2="708.70" y2="433.19" stroke="#ebebeb" stroke-width="0.6"/>
<line x1="565.05" y1="288.90" x2="717.44" y2="288.90" stroke="#ebebeb" stroke-width="0.6"/>
<polyline points="565.05,279.75 565.05,433.19 717.44,433.19" fill="none" stroke="#a0a0a0" stroke-width="0.8"/>
<line x1="565.05" y1="423.50" x2="566.35" y2="423.50" stroke="#a0a0a0" stroke-width="0.6"/>
<line x1="574.20" y1="433.19" x2="574.20" y2="431.89" stroke="#a0a0a0" stroke-width="0.6"/>
<line x1="565.05" y1="396.58" x2="566.35" y2="396.58" stroke="#a0a0a0" stroke-width="0.6"/>
<line x1="601.10" y1="433.19" x2="601.10" y2="431.89" stroke="#a0a0a0" stroke-width="0.6"/>
<line x1="565.05" y1="369.66" x2="566.35" y2="369.66" stroke="#a0a0a0" stroke-width="0.6"/>
<line x1="628.00" y1="433.19" x2="628.00" y2="431.89" stroke="#a0a0a0" stroke-width="0.6"/>
<line x1="565.05" y1="342.74" x2="566.35" y2="342.74" stroke="#a0a0a0" stroke-width="0.6"/>
<line x1="654.90" y1="433.19" x2="654.90" y2="431.89" stroke="#a0a0a0" stroke-width="0.6"/>
<line x1="565.05" y1="315.82" x2="566.35" y2="315.82" stroke="#a0a0a0" stroke-width="0.6"/>
<line x1="681.80" y1="433.19" x2="681.80" y2="431.89" stroke="#a0a0a0" stroke-width="0.6"/>
<line x1="565.05" y1="288.90" x2="566.35" y2="288.90" stroke="#a0a0a0" stroke-width="0.6"/>
<line x1="708.70" y1="433.19" x2="708.70" y2="431.89" stroke="#a0a0a0" stroke-width="0.6"/>
<text transform="translate(562.55 426.45) scale(1.0 1.1)" text-anchor="end" font-size="7.6" fill="#141414" class="t">0</text>
<text transform="translate(574.20 443.29) scale(1.0 1.1)" text-anchor="middle" font-size="7.6" fill="#141414" class="t">0</text>
<text transform="translate(562.55 399.53) scale(1.0 1.1)" text-anchor="end" font-size="7.6" fill="#141414" class="t">0.2</text>
<text transform="translate(601.10 443.29) scale(1.0 1.1)" text-anchor="middle" font-size="7.6" fill="#141414" class="t">0.2</text>
<text transform="translate(562.55 372.61) scale(1.0 1.1)" text-anchor="end" font-size="7.6" fill="#141414" class="t">0.4</text>
<text transform="translate(628.00 443.29) scale(1.0 1.1)" text-anchor="middle" font-size="7.6" fill="#141414" class="t">0.4</text>
<text transform="translate(562.55 345.69) scale(1.0 1.1)" text-anchor="end" font-size="7.6" fill="#141414" class="t">0.6</text>
<text transform="translate(654.90 443.29) scale(1.0 1.1)" text-anchor="middle" font-size="7.6" fill="#141414" class="t">0.6</text>
<text transform="translate(562.55 318.77) scale(1.0 1.1)" text-anchor="end" font-size="7.6" fill="#141414" class="t">0.8</text>
<text transform="translate(681.80 443.29) scale(1.0 1.1)" text-anchor="middle" font-size="7.6" fill="#141414" class="t">0.8</text>
<text transform="translate(562.55 291.85) scale(1.0 1.1)" text-anchor="end" font-size="7.6" fill="#141414" class="t">1</text>
<text transform="translate(708.70 443.29) scale(1.0 1.1)" text-anchor="middle" font-size="7.6" fill="#141414" class="t">1</text>
<line x1="574.20" y1="423.50" x2="708.70" y2="288.90" stroke="#2a2a2a" stroke-width="0.5"/>
<polyline points="574.30,423.64 575.44,423.64 575.44,288.68 707.43,288.68" fill="none" stroke="#0072BD" stroke-width="1.1" stroke-linejoin="round"/>
<polyline points="574.30,423.64 574.30,377.56 575.60,377.56 576.03,362.04 577.33,361.19 578.19,358.62 578.57,352.53 578.91,348.72 578.91,345.94 580.32,345.94 580.32,344.06 580.94,344.06 580.94,342.18 581.56,342.18 581.56,340.31 582.18,340.31 582.18,337.94 583.13,337.94 583.13,335.58 584.09,335.58 585.02,330.92 585.48,322.45 585.48,321.05 586.42,321.05 586.42,319.65 587.36,319.65 589.23,319.20 589.70,309.32 592.52,308.40 592.52,307.46 594.39,307.46 594.39,306.52 596.27,306.52 601.90,305.59 601.90,304.18 603.31,304.18 603.31,302.77 604.72,302.77 604.72,301.36 606.13,301.36 607.06,295.73 614.10,295.27 614.58,294.32 630.06,293.86 630.06,293.07 631.93,293.07 631.93,292.29 633.80,292.29 633.80,291.50 635.67,291.50 640.01,291.33 689.92,290.85 690.87,289.71 707.43,288.76" fill="none" stroke="#D95319" stroke-width="1.1" stroke-linejoin="round"/>
<polyline points="574.30,423.64 574.74,398.21 574.74,378.41 575.71,375.37 576.47,362.92 576.47,360.58 577.52,360.58 577.52,358.24 578.57,358.24 578.57,356.33 579.14,356.33 579.14,354.43 579.71,354.43 579.71,352.53 580.28,352.53 581.27,345.94 581.27,344.06 582.20,344.06 582.20,342.19 583.13,342.19 583.13,340.08 583.49,340.08 583.49,337.96 583.84,337.96 583.84,335.85 584.19,335.85 584.19,333.74 584.54,333.74 585.48,325.29 590.18,324.35 590.18,323.41 592.29,323.41 592.29,322.47 594.40,322.47 595.34,317.79 595.34,315.28 595.81,315.28 595.81,312.77 596.27,312.77 596.27,310.27 596.74,310.27 596.74,308.63 597.45,308.63 597.45,306.99 598.15,306.99 608.45,306.52 609.40,304.65 619.74,304.18 620.67,302.29 620.67,301.59 623.02,301.59 623.02,300.88 625.37,300.88 628.19,299.95 628.19,297.92 629.12,297.92 629.12,295.89 630.06,295.89 630.06,293.86 630.99,293.86 635.67,292.91 640.01,292.91 640.01,292.72 642.25,292.72 642.25,292.54 644.48,292.54 644.48,292.35 646.72,292.35 646.72,292.17 648.95,292.17 648.95,291.98 651.19,291.98 651.19,291.80 653.42,291.80 653.42,291.61 655.66,291.61 684.21,291.23 684.21,291.01 686.32,291.01 686.32,290.78 688.43,290.78 688.43,290.56 690.54,290.56 690.54,290.33 692.65,290.33 692.65,290.11 694.77,290.11 694.77,289.88 696.88,289.88 696.88,289.66 698.99,289.66 698.99,289.43 701.10,289.43 701.10,289.21 703.21,289.21 703.21,288.98 705.32,288.98 705.32,288.76 707.43,288.76" fill="none" stroke="#EDB120" stroke-width="1.1" stroke-linejoin="round"/>
<polyline points="574.30,423.64 577.75,423.64 577.75,378.41 579.48,378.41 579.38,311.22 587.36,311.22 587.36,288.68 707.43,288.68" fill="none" stroke="#7E2F8E" stroke-width="1.1" stroke-linejoin="round"/>
<rect x="623.90" y="388.30" width="91.80" height="40.80" fill="#fff" stroke="#e2e2e2" stroke-width="0.6"/>
<line x1="628.40" y1="393.50" x2="640.80" y2="393.50" stroke="#0072BD" stroke-width="0.95"/>
<text transform="translate(642.10 396.25) scale(1.0 1.07)" font-size="7.55" fill="#141414" class="t">12.1 (AUC = 0.9938)</text>
<line x1="628.40" y1="403.50" x2="640.80" y2="403.50" stroke="#D95319" stroke-width="0.95"/>
<text transform="translate(642.10 406.25) scale(1.0 1.07)" font-size="7.55" fill="#141414" class="t">12.6 (AUC = 0.9187)</text>
<line x1="628.40" y1="413.50" x2="640.80" y2="413.50" stroke="#EDB120" stroke-width="0.95"/>
<text transform="translate(642.10 416.25) scale(1.0 1.07)" font-size="7.55" fill="#141414" class="t">13.2 (AUC = 0.9028)</text>
<line x1="628.40" y1="423.50" x2="640.80" y2="423.50" stroke="#7E2F8E" stroke-width="0.95"/>
<text transform="translate(642.10 426.25) scale(1.0 1.07)" font-size="7.55" fill="#141414" class="t">13.7 (AUC = 0.9588)</text>
<text x="641.45" y="278.05" text-anchor="middle" font-family="'Liberation Serif', 'Times New Roman', serif" font-weight="bold" font-size="8.2" fill="#000">SVC</text>
<text x="641.45" y="452.94" text-anchor="middle" font-family="'Liberation Serif', 'Times New Roman', serif" font-weight="bold" font-size="7.9" fill="#000">FPR</text>
<text x="549.05" y="356.20" text-anchor="middle" font-family="'Liberation Serif', 'Times New Roman', serif" font-weight="bold" font-size="7.9" fill="#000" transform="rotate(-90 549.05 356.20)">TPR</text>
<text transform="translate(536.70 271.80) scale(0.97 1.1)" font-size="13.3" fill="#000">d</text>
<line x1="44.40" y1="755.13" x2="44.40" y2="905.50" stroke="#ebebeb" stroke-width="0.6"/>
<line x1="35.83" y1="896.00" x2="178.59" y2="896.00" stroke="#ebebeb" stroke-width="0.6"/>
<line x1="69.60" y1="755.13" x2="69.60" y2="905.50" stroke="#ebebeb" stroke-width="0.6"/>
<line x1="35.83" y1="869.62" x2="178.59" y2="869.62" stroke="#ebebeb" stroke-width="0.6"/>
<line x1="94.80" y1="755.13" x2="94.80" y2="905.50" stroke="#ebebeb" stroke-width="0.6"/>
<line x1="35.83" y1="843.24" x2="178.59" y2="843.24" stroke="#ebebeb" stroke-width="0.6"/>
<line x1="120.00" y1="755.13" x2="120.00" y2="905.50" stroke="#ebebeb" stroke-width="0.6"/>
<line x1="35.83" y1="816.86" x2="178.59" y2="816.86" stroke="#ebebeb" stroke-width="0.6"/>
<line x1="145.20" y1="755.13" x2="145.20" y2="905.50" stroke="#ebebeb" stroke-width="0.6"/>
<line x1="35.83" y1="790.48" x2="178.59" y2="790.48" stroke="#ebebeb" stroke-width="0.6"/>
<line x1="170.40" y1="755.13" x2="170.40" y2="905.50" stroke="#ebebeb" stroke-width="0.6"/>
<line x1="35.83" y1="764.10" x2="178.59" y2="764.10" stroke="#ebebeb" stroke-width="0.6"/>
<polyline points="35.83,755.13 35.83,905.50 178.59,905.50" fill="none" stroke="#a0a0a0" stroke-width="0.8"/>
<line x1="35.83" y1="896.00" x2="37.13" y2="896.00" stroke="#a0a0a0" stroke-width="0.6"/>
<line x1="44.40" y1="905.50" x2="44.40" y2="904.20" stroke="#a0a0a0" stroke-width="0.6"/>
<line x1="35.83" y1="869.62" x2="37.13" y2="869.62" stroke="#a0a0a0" stroke-width="0.6"/>
<line x1="69.60" y1="905.50" x2="69.60" y2="904.20" stroke="#a0a0a0" stroke-width="0.6"/>
<line x1="35.83" y1="843.24" x2="37.13" y2="843.24" stroke="#a0a0a0" stroke-width="0.6"/>
<line x1="94.80" y1="905.50" x2="94.80" y2="904.20" stroke="#a0a0a0" stroke-width="0.6"/>
<line x1="35.83" y1="816.86" x2="37.13" y2="816.86" stroke="#a0a0a0" stroke-width="0.6"/>
<line x1="120.00" y1="905.50" x2="120.00" y2="904.20" stroke="#a0a0a0" stroke-width="0.6"/>
<line x1="35.83" y1="790.48" x2="37.13" y2="790.48" stroke="#a0a0a0" stroke-width="0.6"/>
<line x1="145.20" y1="905.50" x2="145.20" y2="904.20" stroke="#a0a0a0" stroke-width="0.6"/>
<line x1="35.83" y1="764.10" x2="37.13" y2="764.10" stroke="#a0a0a0" stroke-width="0.6"/>
<line x1="170.40" y1="905.50" x2="170.40" y2="904.20" stroke="#a0a0a0" stroke-width="0.6"/>
<text transform="translate(33.33 898.95) scale(0.966 1.1)" text-anchor="end" font-size="7.6" fill="#141414" class="t">0</text>
<text transform="translate(44.40 915.60) scale(0.966 1.1)" text-anchor="middle" font-size="7.6" fill="#141414" class="t">0</text>
<text transform="translate(33.33 872.57) scale(0.966 1.1)" text-anchor="end" font-size="7.6" fill="#141414" class="t">0.2</text>
<text transform="translate(69.60 915.60) scale(0.966 1.1)" text-anchor="middle" font-size="7.6" fill="#141414" class="t">0.2</text>
<text transform="translate(33.33 846.19) scale(0.966 1.1)" text-anchor="end" font-size="7.6" fill="#141414" class="t">0.4</text>
<text transform="translate(94.80 915.60) scale(0.966 1.1)" text-anchor="middle" font-size="7.6" fill="#141414" class="t">0.4</text>
<text transform="translate(33.33 819.81) scale(0.966 1.1)" text-anchor="end" font-size="7.6" fill="#141414" class="t">0.6</text>
<text transform="translate(120.00 915.60) scale(0.966 1.1)" text-anchor="middle" font-size="7.6" fill="#141414" class="t">0.6</text>
<text transform="translate(33.33 793.43) scale(0.966 1.1)" text-anchor="end" font-size="7.6" fill="#141414" class="t">0.8</text>
<text transform="translate(145.20 915.60) scale(0.966 1.1)" text-anchor="middle" font-size="7.6" fill="#141414" class="t">0.8</text>
<text transform="translate(33.33 767.05) scale(0.966 1.1)" text-anchor="end" font-size="7.6" fill="#141414" class="t">1</text>
<text transform="translate(170.40 915.60) scale(0.966 1.1)" text-anchor="middle" font-size="7.6" fill="#141414" class="t">1</text>
<line x1="44.40" y1="896.00" x2="170.40" y2="764.10" stroke="#2a2a2a" stroke-width="0.5"/>
<polyline points="44.49,895.08 44.85,849.81 45.16,830.00 45.16,788.15 46.11,784.39 47.04,780.66 48.44,776.89 50.33,774.55 54.08,771.73 58.30,770.80 58.77,768.44 61.59,767.04 64.39,766.38 72.84,766.11 73.77,765.44 82.21,765.44 110.00,765.16 151.37,765.03 151.73,763.77 170.23,763.59" fill="none" stroke="#0072BD" stroke-width="1.1" stroke-linejoin="round"/>
<polyline points="44.49,895.08 45.39,867.78 46.29,855.20 46.29,853.41 48.08,853.41 48.98,844.43 49.88,835.44 49.88,833.63 50.34,833.63 50.34,831.82 50.80,831.82 50.80,830.00 51.26,830.00 51.26,827.64 51.54,827.64 51.54,825.27 51.82,825.27 51.82,822.91 52.10,822.91 52.10,820.55 52.38,820.55 52.38,818.18 52.66,818.18 52.66,815.84 53.37,815.84 53.37,813.49 54.08,813.49 55.02,806.92 55.02,804.58 55.37,804.58 55.37,802.23 55.72,802.23 55.72,799.89 56.07,799.89 56.07,797.54 56.42,797.54 57.35,792.84 57.35,790.97 58.06,790.97 58.06,789.10 58.77,789.10 58.77,786.75 59.47,786.75 59.47,784.39 60.17,784.39 60.17,782.05 60.88,782.05 60.88,779.71 61.59,779.71 61.59,778.30 63.46,778.30 63.46,776.42 65.81,776.42 65.81,775.48 67.92,775.48 67.92,774.55 70.03,774.55 70.03,773.61 71.90,773.61 71.90,772.66 73.77,772.66 73.77,771.57 75.34,771.57 75.34,770.47 76.91,770.47 76.91,769.38 78.48,769.38 78.48,768.68 80.34,768.68 80.34,767.98 82.21,767.98 91.61,767.31 91.61,767.01 93.96,767.01 93.96,766.71 96.31,766.71 96.31,766.41 98.65,766.41 98.65,766.11 101.00,766.11 110.00,765.62 115.44,765.39 129.81,764.49 170.23,763.59" fill="none" stroke="#D95319" stroke-width="1.1" stroke-linejoin="round"/>
<polyline points="44.49,895.08 45.39,867.78 46.29,844.43 47.04,830.00 47.04,827.64 47.51,827.64 47.51,825.27 47.98,825.27 47.98,822.91 48.44,822.91 48.44,820.55 48.91,820.55 48.91,818.18 49.38,818.18 49.38,816.30 50.16,816.30 50.16,814.42 50.95,814.42 50.95,812.54 51.73,812.54 51.73,810.66 52.91,810.66 52.91,808.79 54.08,808.79 54.08,806.29 54.55,806.29 54.55,803.79 55.02,803.79 55.02,801.30 55.48,801.30 55.48,799.42 55.95,799.42 55.95,797.54 56.42,797.54 56.42,795.66 56.89,795.66 56.89,793.78 58.30,793.78 58.30,791.90 59.71,791.90 59.71,790.50 61.58,790.50 61.58,789.10 63.46,789.10 63.46,787.69 65.80,787.69 65.80,786.28 68.15,786.28 68.15,785.34 70.02,785.34 70.02,784.40 71.90,784.40 71.90,783.46 73.77,783.46 79.41,782.99 79.41,781.90 81.29,781.90 81.29,780.80 83.17,780.80 83.17,779.71 85.05,779.71 85.05,779.24 86.93,779.24 86.93,778.77 88.80,778.77 88.80,778.30 90.67,778.30 90.67,776.89 92.08,776.89 92.08,775.48 93.49,775.48 93.49,774.70 95.68,774.70 95.68,773.92 97.86,773.92 97.86,773.13 100.05,773.13 100.05,772.51 101.93,772.51 101.93,771.89 103.81,771.89 103.81,771.26 105.69,771.26 106.62,769.38 110.00,768.91 111.85,768.08 111.85,767.48 113.65,767.48 113.65,766.89 115.44,766.89 115.44,766.29 117.24,766.29 117.24,766.08 119.34,766.08 119.34,765.87 121.43,765.87 121.43,765.66 123.53,765.66 123.53,765.45 125.62,765.45 125.62,765.24 127.72,765.24 127.72,765.03 129.81,765.03 147.78,764.49 170.23,763.59" fill="none" stroke="#EDB120" stroke-width="1.1" stroke-linejoin="round"/>
<polyline points="44.49,895.08 44.69,830.00 45.16,797.54 47.04,795.66 47.98,787.21 48.44,782.06 50.33,781.11 51.26,779.24 54.55,776.42 62.53,775.95 62.53,774.55 70.03,774.08 70.97,772.66 82.21,772.20 82.70,770.80 96.30,770.33 97.25,769.38 101.00,768.91 101.94,766.57 106.62,763.75 110.00,763.57 170.23,763.59" fill="none" stroke="#7E2F8E" stroke-width="1.1" stroke-linejoin="round"/>
<rect x="86.20" y="862.30" width="89.80" height="39.50" fill="#fff" stroke="#e2e2e2" stroke-width="0.6"/>
<line x1="92.10" y1="867.60" x2="103.80" y2="867.60" stroke="#0072BD" stroke-width="0.95"/>
<text transform="translate(104.80 870.35) scale(0.963 1.07)" font-size="7.4" fill="#141414" class="t">12.1 (AUC = 0.9731)</text>
<line x1="92.10" y1="877.20" x2="103.80" y2="877.20" stroke="#D95319" stroke-width="0.95"/>
<text transform="translate(104.80 879.95) scale(0.963 1.07)" font-size="7.4" fill="#141414" class="t">12.6 (AUC = 0.9154)</text>
<line x1="92.10" y1="886.80" x2="103.80" y2="886.80" stroke="#EDB120" stroke-width="0.95"/>
<text transform="translate(104.80 889.55) scale(0.963 1.07)" font-size="7.4" fill="#141414" class="t">13.2 (AUC = 0.8922)</text>
<line x1="92.10" y1="896.40" x2="103.80" y2="896.40" stroke="#7E2F8E" stroke-width="0.95"/>
<text transform="translate(104.80 899.15) scale(0.963 1.07)" font-size="7.4" fill="#141414" class="t">13.7 (AUC = 0.9585)</text>
<text x="107.40" y="753.43" text-anchor="middle" font-family="'Liberation Serif', 'Times New Roman', serif" font-weight="bold" font-size="8.2" fill="#000" textLength="55.89" lengthAdjust="spacingAndGlyphs">SVC(Quadratic)</text>
<text x="107.40" y="925.25" text-anchor="middle" font-family="'Liberation Serif', 'Times New Roman', serif" font-weight="bold" font-size="7.9" fill="#000" textLength="14.83" lengthAdjust="spacingAndGlyphs">FPR</text>
<text x="19.83" y="830.05" text-anchor="middle" font-family="'Liberation Serif', 'Times New Roman', serif" font-weight="bold" font-size="7.9" fill="#000" transform="rotate(-90 19.83 830.05)">TPR</text>
<text transform="translate(23.50 742.70) scale(0.97 1.1)" font-size="13.3" fill="#000">a*</text>
<line x1="214.30" y1="757.14" x2="214.30" y2="907.28" stroke="#ebebeb" stroke-width="0.6"/>
<line x1="205.33" y1="897.80" x2="354.77" y2="897.80" stroke="#ebebeb" stroke-width="0.6"/>
<line x1="240.68" y1="757.14" x2="240.68" y2="907.28" stroke="#ebebeb" stroke-width="0.6"/>
<line x1="205.33" y1="871.46" x2="354.77" y2="871.46" stroke="#ebebeb" stroke-width="0.6"/>
<line x1="267.06" y1="757.14" x2="267.06" y2="907.28" stroke="#ebebeb" stroke-width="0.6"/>
<line x1="205.33" y1="845.12" x2="354.77" y2="845.12" stroke="#ebebeb" stroke-width="0.6"/>
<line x1="293.44" y1="757.14" x2="293.44" y2="907.28" stroke="#ebebeb" stroke-width="0.6"/>
<line x1="205.33" y1="818.78" x2="354.77" y2="818.78" stroke="#ebebeb" stroke-width="0.6"/>
<line x1="319.82" y1="757.14" x2="319.82" y2="907.28" stroke="#ebebeb" stroke-width="0.6"/>
<line x1="205.33" y1="792.44" x2="354.77" y2="792.44" stroke="#ebebeb" stroke-width="0.6"/>
<line x1="346.20" y1="757.14" x2="346.20" y2="907.28" stroke="#ebebeb" stroke-width="0.6"/>
<line x1="205.33" y1="766.10" x2="354.77" y2="766.10" stroke="#ebebeb" stroke-width="0.6"/>
<polyline points="205.33,757.14 205.33,907.28 354.77,907.28" fill="none" stroke="#a0a0a0" stroke-width="0.8"/>
<line x1="205.33" y1="897.80" x2="206.63" y2="897.80" stroke="#a0a0a0" stroke-width="0.6"/>
<line x1="214.30" y1="907.28" x2="214.30" y2="905.98" stroke="#a0a0a0" stroke-width="0.6"/>
<line x1="205.33" y1="871.46" x2="206.63" y2="871.46" stroke="#a0a0a0" stroke-width="0.6"/>
<line x1="240.68" y1="907.28" x2="240.68" y2="905.98" stroke="#a0a0a0" stroke-width="0.6"/>
<line x1="205.33" y1="845.12" x2="206.63" y2="845.12" stroke="#a0a0a0" stroke-width="0.6"/>
<line x1="267.06" y1="907.28" x2="267.06" y2="905.98" stroke="#a0a0a0" stroke-width="0.6"/>
<line x1="205.33" y1="818.78" x2="206.63" y2="818.78" stroke="#a0a0a0" stroke-width="0.6"/>
<line x1="293.44" y1="907.28" x2="293.44" y2="905.98" stroke="#a0a0a0" stroke-width="0.6"/>
<line x1="205.33" y1="792.44" x2="206.63" y2="792.44" stroke="#a0a0a0" stroke-width="0.6"/>
<line x1="319.82" y1="907.28" x2="319.82" y2="905.98" stroke="#a0a0a0" stroke-width="0.6"/>
<line x1="205.33" y1="766.10" x2="206.63" y2="766.10" stroke="#a0a0a0" stroke-width="0.6"/>
<line x1="346.20" y1="907.28" x2="346.20" y2="905.98" stroke="#a0a0a0" stroke-width="0.6"/>
<text transform="translate(202.83 900.75) scale(1.0 1.1)" text-anchor="end" font-size="7.6" fill="#141414" class="t">0</text>
<text transform="translate(214.30 917.38) scale(1.0 1.1)" text-anchor="middle" font-size="7.6" fill="#141414" class="t">0</text>
<text transform="translate(202.83 874.41) scale(1.0 1.1)" text-anchor="end" font-size="7.6" fill="#141414" class="t">0.2</text>
<text transform="translate(240.68 917.38) scale(1.0 1.1)" text-anchor="middle" font-size="7.6" fill="#141414" class="t">0.2</text>
<text transform="translate(202.83 848.07) scale(1.0 1.1)" text-anchor="end" font-size="7.6" fill="#141414" class="t">0.4</text>
<text transform="translate(267.06 917.38) scale(1.0 1.1)" text-anchor="middle" font-size="7.6" fill="#141414" class="t">0.4</text>
<text transform="translate(202.83 821.73) scale(1.0 1.1)" text-anchor="end" font-size="7.6" fill="#141414" class="t">0.6</text>
<text transform="translate(293.44 917.38) scale(1.0 1.1)" text-anchor="middle" font-size="7.6" fill="#141414" class="t">0.6</text>
<text transform="translate(202.83 795.39) scale(1.0 1.1)" text-anchor="end" font-size="7.6" fill="#141414" class="t">0.8</text>
<text transform="translate(319.82 917.38) scale(1.0 1.1)" text-anchor="middle" font-size="7.6" fill="#141414" class="t">0.8</text>
<text transform="translate(202.83 769.05) scale(1.0 1.1)" text-anchor="end" font-size="7.6" fill="#141414" class="t">1</text>
<text transform="translate(346.20 917.38) scale(1.0 1.1)" text-anchor="middle" font-size="7.6" fill="#141414" class="t">1</text>
<line x1="214.30" y1="897.80" x2="346.20" y2="766.10" stroke="#2a2a2a" stroke-width="0.5"/>
<polyline points="214.90,897.25 215.44,832.00 215.63,812.67 216.38,807.98 216.57,797.66 217.32,779.83 218.44,776.54 219.38,776.07 219.85,771.38 276.96,771.44 276.96,768.44 330.05,768.44 334.35,766.30 346.13,766.07" fill="none" stroke="#0072BD" stroke-width="1.1" stroke-linejoin="round"/>
<polyline points="214.90,897.25 215.71,882.14 216.12,857.65 216.36,837.25 217.36,832.36 217.36,830.31 218.99,830.31 218.99,828.27 220.62,828.27 220.62,826.63 221.23,826.63 221.23,825.00 221.84,825.00 221.84,822.59 222.96,822.59 222.96,820.18 224.07,820.18 224.07,817.92 224.36,817.92 224.36,815.67 224.64,815.67 224.64,813.42 224.92,813.42 224.92,811.17 225.20,811.17 225.20,808.92 225.48,808.92 225.48,807.27 227.12,807.27 227.12,805.63 228.77,805.63 228.77,803.52 229.47,803.52 229.47,801.41 230.17,801.41 230.17,799.22 230.80,799.22 230.80,797.03 231.43,797.03 231.43,794.84 232.05,794.84 232.05,792.96 232.83,792.96 232.83,791.09 233.61,791.09 233.61,789.21 234.40,789.21 234.40,787.57 235.80,787.57 235.80,785.93 237.21,785.93 237.21,784.29 238.62,784.29 238.62,782.64 240.03,782.64 240.03,781.24 241.90,781.24 241.90,780.30 243.78,780.30 243.78,779.36 245.66,779.36 245.66,778.42 247.53,778.42 247.53,777.48 249.41,777.48 249.41,776.86 251.29,776.86 251.29,776.23 253.16,776.23 253.16,775.61 255.04,775.61 259.73,775.14 259.73,773.73 261.14,773.73 261.14,772.32 262.55,772.32 266.30,771.85 270.00,772.19 280.71,771.65 280.71,771.33 282.86,771.33 282.86,771.01 285.01,771.01 285.01,770.69 287.15,770.69 287.15,770.37 289.30,770.37 289.30,770.05 291.45,770.05 296.81,769.30 296.81,769.16 298.96,769.16 298.96,769.02 301.10,769.02 301.10,768.88 303.24,768.88 303.24,768.74 305.39,768.74 305.39,768.60 307.53,768.60 307.53,768.46 309.67,768.46 309.67,768.31 311.82,768.31 311.82,768.17 313.96,768.17 313.96,768.03 316.10,768.03 316.10,767.89 318.25,767.89 318.25,767.74 320.55,767.74 320.55,767.59 322.85,767.59 322.85,767.43 325.15,767.43 325.15,767.28 327.45,767.28 327.45,767.13 329.75,767.13 329.75,766.98 332.05,766.98 332.05,766.82 334.35,766.82 346.13,766.07" fill="none" stroke="#D95319" stroke-width="1.1" stroke-linejoin="round"/>
<polyline points="214.90,897.25 214.90,894.94 215.44,894.94 215.44,892.62 215.99,892.62 215.99,890.31 216.53,890.31 216.53,888.27 216.94,888.27 216.94,886.23 217.35,886.23 217.35,884.19 217.76,884.19 217.76,882.14 218.16,882.14 218.58,865.82 218.99,853.58 218.99,851.54 219.29,851.54 219.29,849.50 219.60,849.50 219.60,847.46 219.90,847.46 219.90,845.42 220.21,845.42 221.02,837.25 221.84,829.09 221.84,827.05 222.66,827.05 222.66,825.00 223.47,825.00 223.47,822.79 223.65,822.79 223.65,820.58 223.83,820.58 223.83,818.37 224.01,818.37 224.01,816.15 224.19,816.15 224.19,813.94 224.37,813.94 224.37,811.73 224.54,811.73 225.48,806.10 227.36,805.16 227.36,804.22 229.70,804.22 229.70,803.29 232.05,803.29 232.52,798.59 232.52,797.66 234.40,797.66 234.40,796.72 236.27,796.72 236.27,795.31 238.62,795.31 238.62,793.90 240.96,793.90 240.96,792.03 242.37,792.03 242.37,790.15 243.78,790.15 243.78,788.27 245.19,788.27 245.19,786.40 246.59,786.40 259.73,785.93 259.73,784.52 261.14,784.52 261.14,783.11 262.55,783.11 262.55,781.94 264.42,781.94 264.42,780.77 266.30,780.77 266.30,779.36 267.55,779.36 267.55,777.95 268.80,777.95 268.80,776.54 270.05,776.54 270.05,775.14 271.30,775.14 271.30,773.73 272.56,773.73 272.56,772.32 273.81,772.32 273.81,770.44 274.74,770.44 274.74,768.57 275.68,768.57 280.00,768.10 330.05,767.89 330.05,767.63 332.35,767.63 332.35,767.37 334.65,767.37 334.65,767.11 336.94,767.11 336.94,766.85 339.24,766.85 339.24,766.59 341.54,766.59 341.54,766.33 343.84,766.33 343.84,766.07 346.13,766.07" fill="none" stroke="#EDB120" stroke-width="1.1" stroke-linejoin="round"/>
<polyline points="214.90,897.25 215.16,832.00 215.16,801.41 215.82,798.13 218.44,797.66 218.91,794.84 230.17,794.84 231.11,788.74 234.40,788.27 240.03,785.46 258.79,785.46 259.26,782.17 270.00,781.84 272.14,777.01 275.36,775.40 286.08,775.40 291.45,772.51 332.19,772.51 346.13,766.07" fill="none" stroke="#7E2F8E" stroke-width="1.1" stroke-linejoin="round"/>
<rect x="260.30" y="862.90" width="91.80" height="40.40" fill="#fff" stroke="#e2e2e2" stroke-width="0.6"/>
<line x1="266.00" y1="868.60" x2="277.50" y2="868.60" stroke="#0072BD" stroke-width="0.95"/>
<text transform="translate(279.20 871.35) scale(1.0 1.07)" font-size="7.4" fill="#141414" class="t">12.1 (AUC = 0.9607)</text>
<line x1="266.00" y1="878.50" x2="277.50" y2="878.50" stroke="#D95319" stroke-width="0.95"/>
<text transform="translate(279.20 881.25) scale(1.0 1.07)" font-size="7.4" fill="#141414" class="t">12.6 (AUC = 0.9008)</text>
<line x1="266.00" y1="888.40" x2="277.50" y2="888.40" stroke="#EDB120" stroke-width="0.95"/>
<text transform="translate(279.20 891.15) scale(1.0 1.07)" font-size="7.4" fill="#141414" class="t">13.2 (AUC = 0.8743)</text>
<line x1="266.00" y1="898.30" x2="277.50" y2="898.30" stroke="#7E2F8E" stroke-width="0.95"/>
<text transform="translate(279.20 901.05) scale(1.0 1.07)" font-size="7.4" fill="#141414" class="t">13.7 (AUC = 0.897)</text>
<text x="280.25" y="755.44" text-anchor="middle" font-family="'Liberation Serif', 'Times New Roman', serif" font-weight="bold" font-size="8.2" fill="#000">Bagging tree</text>
<text x="280.25" y="927.03" text-anchor="middle" font-family="'Liberation Serif', 'Times New Roman', serif" font-weight="bold" font-size="7.9" fill="#000">FPR</text>
<text x="189.33" y="831.95" text-anchor="middle" font-family="'Liberation Serif', 'Times New Roman', serif" font-weight="bold" font-size="7.9" fill="#000" transform="rotate(-90 189.33 831.95)">TPR</text>
<text transform="translate(200.40 742.70) scale(0.97 1.1)" font-size="13.3" fill="#000">b*</text>
<line x1="386.10" y1="756.95" x2="386.10" y2="906.98" stroke="#ebebeb" stroke-width="0.6"/>
<line x1="377.13" y1="897.50" x2="526.57" y2="897.50" stroke="#ebebeb" stroke-width="0.6"/>
<line x1="412.48" y1="756.95" x2="412.48" y2="906.98" stroke="#ebebeb" stroke-width="0.6"/>
<line x1="377.13" y1="871.18" x2="526.57" y2="871.18" stroke="#ebebeb" stroke-width="0.6"/>
<line x1="438.86" y1="756.95" x2="438.86" y2="906.98" stroke="#ebebeb" stroke-width="0.6"/>
<line x1="377.13" y1="844.86" x2="526.57" y2="844.86" stroke="#ebebeb" stroke-width="0.6"/>
<line x1="465.24" y1="756.95" x2="465.24" y2="906.98" stroke="#ebebeb" stroke-width="0.6"/>
<line x1="377.13" y1="818.54" x2="526.57" y2="818.54" stroke="#ebebeb" stroke-width="0.6"/>
<line x1="491.62" y1="756.95" x2="491.62" y2="906.98" stroke="#ebebeb" stroke-width="0.6"/>
<line x1="377.13" y1="792.22" x2="526.57" y2="792.22" stroke="#ebebeb" stroke-width="0.6"/>
<line x1="518.00" y1="756.95" x2="518.00" y2="906.98" stroke="#ebebeb" stroke-width="0.6"/>
<line x1="377.13" y1="765.90" x2="526.57" y2="765.90" stroke="#ebebeb" stroke-width="0.6"/>
<polyline points="377.13,756.95 377.13,906.98 526.57,906.98" fill="none" stroke="#a0a0a0" stroke-width="0.8"/>
<line x1="377.13" y1="897.50" x2="378.43" y2="897.50" stroke="#a0a0a0" stroke-width="0.6"/>
<line x1="386.10" y1="906.98" x2="386.10" y2="905.68" stroke="#a0a0a0" stroke-width="0.6"/>
<line x1="377.13" y1="871.18" x2="378.43" y2="871.18" stroke="#a0a0a0" stroke-width="0.6"/>
<line x1="412.48" y1="906.98" x2="412.48" y2="905.68" stroke="#a0a0a0" stroke-width="0.6"/>
<line x1="377.13" y1="844.86" x2="378.43" y2="844.86" stroke="#a0a0a0" stroke-width="0.6"/>
<line x1="438.86" y1="906.98" x2="438.86" y2="905.68" stroke="#a0a0a0" stroke-width="0.6"/>
<line x1="377.13" y1="818.54" x2="378.43" y2="818.54" stroke="#a0a0a0" stroke-width="0.6"/>
<line x1="465.24" y1="906.98" x2="465.24" y2="905.68" stroke="#a0a0a0" stroke-width="0.6"/>
<line x1="377.13" y1="792.22" x2="378.43" y2="792.22" stroke="#a0a0a0" stroke-width="0.6"/>
<line x1="491.62" y1="906.98" x2="491.62" y2="905.68" stroke="#a0a0a0" stroke-width="0.6"/>
<line x1="377.13" y1="765.90" x2="378.43" y2="765.90" stroke="#a0a0a0" stroke-width="0.6"/>
<line x1="518.00" y1="906.98" x2="518.00" y2="905.68" stroke="#a0a0a0" stroke-width="0.6"/>
<text transform="translate(374.63 900.45) scale(1.0 1.1)" text-anchor="end" font-size="7.6" fill="#141414" class="t">0</text>
<text transform="translate(386.10 917.08) scale(1.0 1.1)" text-anchor="middle" font-size="7.6" fill="#141414" class="t">0</text>
<text transform="translate(374.63 874.13) scale(1.0 1.1)" text-anchor="end" font-size="7.6" fill="#141414" class="t">0.2</text>
<text transform="translate(412.48 917.08) scale(1.0 1.1)" text-anchor="middle" font-size="7.6" fill="#141414" class="t">0.2</text>
<text transform="translate(374.63 847.81) scale(1.0 1.1)" text-anchor="end" font-size="7.6" fill="#141414" class="t">0.4</text>
<text transform="translate(438.86 917.08) scale(1.0 1.1)" text-anchor="middle" font-size="7.6" fill="#141414" class="t">0.4</text>
<text transform="translate(374.63 821.49) scale(1.0 1.1)" text-anchor="end" font-size="7.6" fill="#141414" class="t">0.6</text>
<text transform="translate(465.24 917.08) scale(1.0 1.1)" text-anchor="middle" font-size="7.6" fill="#141414" class="t">0.6</text>
<text transform="translate(374.63 795.17) scale(1.0 1.1)" text-anchor="end" font-size="7.6" fill="#141414" class="t">0.8</text>
<text transform="translate(491.62 917.08) scale(1.0 1.1)" text-anchor="middle" font-size="7.6" fill="#141414" class="t">0.8</text>
<text transform="translate(374.63 768.85) scale(1.0 1.1)" text-anchor="end" font-size="7.6" fill="#141414" class="t">1</text>
<text transform="translate(518.00 917.08) scale(1.0 1.1)" text-anchor="middle" font-size="7.6" fill="#141414" class="t">1</text>
<line x1="386.10" y1="897.50" x2="518.00" y2="765.90" stroke="#2a2a2a" stroke-width="0.5"/>
<polyline points="385.75,897.12 386.13,872.72 386.69,837.07 387.16,832.00 387.63,816.42 388.10,803.29 389.04,797.66 389.51,785.46 390.26,782.17 390.63,778.42 390.63,765.57 517.50,765.38" fill="none" stroke="#0072BD" stroke-width="1.1" stroke-linejoin="round"/>
<polyline points="385.75,897.12 386.69,874.60 387.63,857.71 387.63,855.83 388.26,855.83 388.26,853.96 388.88,853.96 388.88,852.08 389.51,852.08 390.26,832.00 390.91,822.99 391.85,815.48 391.85,813.61 392.32,813.61 392.32,811.73 392.79,811.73 392.79,809.85 393.26,809.85 393.26,807.67 393.89,807.67 393.89,805.48 394.51,805.48 394.51,803.29 395.14,803.29 395.14,801.18 396.07,801.18 396.07,799.06 397.01,799.06 397.01,796.25 398.42,796.25 398.89,790.62 398.89,788.74 399.83,788.74 399.83,786.87 400.77,786.87 400.77,784.52 402.64,784.52 402.64,783.35 404.52,783.35 404.52,782.17 406.40,782.17 406.40,781.24 408.27,781.24 408.27,780.30 410.15,780.30 410.15,778.89 412.96,778.89 416.25,778.42 416.25,776.07 418.13,776.07 418.13,774.90 419.30,774.90 419.30,773.73 420.47,773.73 423.29,772.79 423.29,772.09 425.63,772.09 425.63,771.38 427.98,771.38 427.98,770.76 429.85,770.76 429.85,770.13 431.73,770.13 431.73,769.51 433.61,769.51 442.05,769.04 447.68,768.57 452.00,768.10 455.19,767.25 455.19,766.88 457.69,766.88 457.69,766.50 460.19,766.50 460.19,766.13 462.70,766.13 472.08,765.75 517.50,765.38" fill="none" stroke="#D95319" stroke-width="1.1" stroke-linejoin="round"/>
<polyline points="385.75,897.12 386.69,874.60 386.69,872.46 386.96,872.46 386.96,870.31 387.23,870.31 387.23,868.17 387.50,868.17 387.50,866.02 387.76,866.02 387.76,863.88 388.03,863.88 388.03,861.73 388.30,861.73 388.30,859.59 388.57,859.59 388.57,857.40 388.88,857.40 388.88,855.21 389.19,855.21 389.19,853.02 389.51,853.02 389.51,850.83 389.82,850.83 389.82,848.64 390.13,848.64 390.13,846.45 390.44,846.45 390.44,844.10 390.91,844.10 390.91,841.76 391.38,841.76 391.38,839.41 391.85,839.41 391.85,837.07 392.32,837.07 392.32,834.53 393.03,834.53 393.03,832.00 393.73,832.00 393.73,829.77 393.93,829.77 393.93,827.55 394.13,827.55 394.13,825.32 394.33,825.32 394.33,823.10 394.53,823.10 394.53,820.87 394.73,820.87 394.73,818.65 394.94,818.65 394.94,816.42 395.14,816.42 395.14,814.55 396.54,814.55 396.54,812.67 397.95,812.67 397.95,810.32 399.36,810.32 399.36,807.98 400.77,807.98 400.77,805.79 402.02,805.79 402.02,803.60 403.27,803.60 403.27,801.41 404.52,801.41 404.52,800.47 405.93,800.47 405.93,799.53 407.33,799.53 407.33,797.66 408.27,797.66 408.27,795.78 409.21,795.78 409.21,794.84 411.56,794.84 411.56,793.90 413.90,793.90 413.90,792.03 415.31,792.03 415.31,790.15 416.72,790.15 416.72,788.74 417.89,788.74 417.89,787.33 419.06,787.33 427.04,786.87 427.04,785.93 428.45,785.93 428.45,784.99 429.85,784.99 434.55,784.05 434.55,783.43 436.42,783.43 436.42,782.80 438.30,782.80 438.30,782.17 440.18,782.17 440.18,781.24 441.58,781.24 441.58,780.30 442.99,780.30 442.99,778.73 444.24,778.73 444.24,777.17 445.49,777.17 445.49,775.61 446.74,775.61 446.74,773.73 448.62,773.73 452.00,773.26 452.00,772.32 454.53,772.32 454.53,771.38 457.07,771.38 457.07,770.91 459.41,770.91 459.41,770.44 461.76,770.44 461.76,769.98 464.10,769.98 464.10,769.51 466.45,769.51 466.45,769.04 468.80,769.04 468.80,768.57 471.14,768.57 471.14,768.10 473.49,768.10 473.49,767.63 475.83,767.63 494.60,766.69 498.35,765.75 517.50,765.38" fill="none" stroke="#EDB120" stroke-width="1.1" stroke-linejoin="round"/>
<polyline points="385.75,897.12 385.75,832.00 385.94,803.29 386.69,799.06 387.63,795.78 387.63,782.17 415.78,782.17 416.25,778.42 418.13,777.01 418.59,773.73 425.16,773.26 425.63,769.98 426.57,768.57 427.04,765.75 517.50,765.38" fill="none" stroke="#7E2F8E" stroke-width="1.1" stroke-linejoin="round"/>
<rect x="431.50" y="863.30" width="89.50" height="40.00" fill="#fff" stroke="#e2e2e2" stroke-width="0.6"/>
<line x1="437.10" y1="868.60" x2="449.10" y2="868.60" stroke="#0072BD" stroke-width="0.95"/>
<text transform="translate(450.20 871.35) scale(1.0 1.07)" font-size="7.43" fill="#141414" class="t">12.1 (AUC = 0.9882)</text>
<line x1="437.10" y1="878.55" x2="449.10" y2="878.55" stroke="#D95319" stroke-width="0.95"/>
<text transform="translate(450.20 881.30) scale(1.0 1.07)" font-size="7.43" fill="#141414" class="t">12.6 (AUC = 0.9269)</text>
<line x1="437.10" y1="888.50" x2="449.10" y2="888.50" stroke="#EDB120" stroke-width="0.95"/>
<text transform="translate(450.20 891.25) scale(1.0 1.07)" font-size="7.43" fill="#141414" class="t">13.2 (AUC = 0.8639)</text>
<line x1="437.10" y1="898.45" x2="449.10" y2="898.45" stroke="#7E2F8E" stroke-width="0.95"/>
<text transform="translate(450.20 901.20) scale(1.0 1.07)" font-size="7.43" fill="#141414" class="t">13.7 (AUC = 0.9645)</text>
<text x="452.05" y="755.25" text-anchor="middle" font-family="'Liberation Serif', 'Times New Roman', serif" font-weight="bold" font-size="8.2" fill="#000">RUSBoosted tree</text>
<text x="452.05" y="926.73" text-anchor="middle" font-family="'Liberation Serif', 'Times New Roman', serif" font-weight="bold" font-size="7.9" fill="#000">FPR</text>
<text x="361.13" y="831.70" text-anchor="middle" font-family="'Liberation Serif', 'Times New Roman', serif" font-weight="bold" font-size="7.9" fill="#000" transform="rotate(-90 361.13 831.70)">TPR</text>
<text transform="translate(368.30 741.75) scale(0.97 1.1)" font-size="13.3" fill="#000">c*</text>
<line x1="569.20" y1="757.70" x2="569.20" y2="908.63" stroke="#ebebeb" stroke-width="0.6"/>
<line x1="560.23" y1="899.10" x2="709.67" y2="899.10" stroke="#ebebeb" stroke-width="0.6"/>
<line x1="595.58" y1="757.70" x2="595.58" y2="908.63" stroke="#ebebeb" stroke-width="0.6"/>
<line x1="560.23" y1="872.62" x2="709.67" y2="872.62" stroke="#ebebeb" stroke-width="0.6"/>
<line x1="621.96" y1="757.70" x2="621.96" y2="908.63" stroke="#ebebeb" stroke-width="0.6"/>
<line x1="560.23" y1="846.14" x2="709.67" y2="846.14" stroke="#ebebeb" stroke-width="0.6"/>
<line x1="648.34" y1="757.70" x2="648.34" y2="908.63" stroke="#ebebeb" stroke-width="0.6"/>
<line x1="560.23" y1="819.66" x2="709.67" y2="819.66" stroke="#ebebeb" stroke-width="0.6"/>
<line x1="674.72" y1="757.70" x2="674.72" y2="908.63" stroke="#ebebeb" stroke-width="0.6"/>
<line x1="560.23" y1="793.18" x2="709.67" y2="793.18" stroke="#ebebeb" stroke-width="0.6"/>
<line x1="701.10" y1="757.70" x2="701.10" y2="908.63" stroke="#ebebeb" stroke-width="0.6"/>
<line x1="560.23" y1="766.70" x2="709.67" y2="766.70" stroke="#ebebeb" stroke-width="0.6"/>
<polyline points="560.23,757.70 560.23,908.63 709.67,908.63" fill="none" stroke="#a0a0a0" stroke-width="0.8"/>
<line x1="560.23" y1="899.10" x2="561.53" y2="899.10" stroke="#a0a0a0" stroke-width="0.6"/>
<line x1="569.20" y1="908.63" x2="569.20" y2="907.33" stroke="#a0a0a0" stroke-width="0.6"/>
<line x1="560.23" y1="872.62" x2="561.53" y2="872.62" stroke="#a0a0a0" stroke-width="0.6"/>
<line x1="595.58" y1="908.63" x2="595.58" y2="907.33" stroke="#a0a0a0" stroke-width="0.6"/>
<line x1="560.23" y1="846.14" x2="561.53" y2="846.14" stroke="#a0a0a0" stroke-width="0.6"/>
<line x1="621.96" y1="908.63" x2="621.96" y2="907.33" stroke="#a0a0a0" stroke-width="0.6"/>
<line x1="560.23" y1="819.66" x2="561.53" y2="819.66" stroke="#a0a0a0" stroke-width="0.6"/>
<line x1="648.34" y1="908.63" x2="648.34" y2="907.33" stroke="#a0a0a0" stroke-width="0.6"/>
<line x1="560.23" y1="793.18" x2="561.53" y2="793.18" stroke="#a0a0a0" stroke-width="0.6"/>
<line x1="674.72" y1="908.63" x2="674.72" y2="907.33" stroke="#a0a0a0" stroke-width="0.6"/>
<line x1="560.23" y1="766.70" x2="561.53" y2="766.70" stroke="#a0a0a0" stroke-width="0.6"/>
<line x1="701.10" y1="908.63" x2="701.10" y2="907.33" stroke="#a0a0a0" stroke-width="0.6"/>
<text transform="translate(557.73 902.05) scale(1.0 1.1)" text-anchor="end" font-size="7.6" fill="#141414" class="t">0</text>
<text transform="translate(569.20 918.73) scale(1.0 1.1)" text-anchor="middle" font-size="7.6" fill="#141414" class="t">0</text>
<text transform="translate(557.73 875.57) scale(1.0 1.1)" text-anchor="end" font-size="7.6" fill="#141414" class="t">0.2</text>
<text transform="translate(595.58 918.73) scale(1.0 1.1)" text-anchor="middle" font-size="7.6" fill="#141414" class="t">0.2</text>
<text transform="translate(557.73 849.09) scale(1.0 1.1)" text-anchor="end" font-size="7.6" fill="#141414" class="t">0.4</text>
<text transform="translate(621.96 918.73) scale(1.0 1.1)" text-anchor="middle" font-size="7.6" fill="#141414" class="t">0.4</text>
<text transform="translate(557.73 822.61) scale(1.0 1.1)" text-anchor="end" font-size="7.6" fill="#141414" class="t">0.6</text>
<text transform="translate(648.34 918.73) scale(1.0 1.1)" text-anchor="middle" font-size="7.6" fill="#141414" class="t">0.6</text>
<text transform="translate(557.73 796.13) scale(1.0 1.1)" text-anchor="end" font-size="7.6" fill="#141414" class="t">0.8</text>
<text transform="translate(674.72 918.73) scale(1.0 1.1)" text-anchor="middle" font-size="7.6" fill="#141414" class="t">0.8</text>
<text transform="translate(557.73 769.65) scale(1.0 1.1)" text-anchor="end" font-size="7.6" fill="#141414" class="t">1</text>
<text transform="translate(701.10 918.73) scale(1.0 1.1)" text-anchor="middle" font-size="7.6" fill="#141414" class="t">1</text>
<line x1="569.20" y1="899.10" x2="701.10" y2="766.70" stroke="#2a2a2a" stroke-width="0.5"/>
<polyline points="569.13,898.43 569.13,852.08 570.25,837.07 570.44,832.00 570.44,782.17 571.38,781.70 571.38,774.20 579.07,774.20 579.54,770.44 586.58,770.44 589.40,768.57 593.15,766.22 701.06,766.13" fill="none" stroke="#0072BD" stroke-width="1.1" stroke-linejoin="round"/>
<polyline points="569.13,898.43 569.69,867.09 569.69,865.22 570.40,865.22 570.40,863.34 571.10,863.34 571.10,861.46 571.80,861.46 571.80,859.59 572.51,859.59 573.44,840.82 573.44,832.00 573.44,830.01 573.82,830.01 573.82,828.02 574.20,828.02 574.20,826.03 574.57,826.03 574.57,824.04 574.95,824.04 574.95,822.05 575.32,822.05 575.32,819.94 575.67,819.94 575.67,817.83 576.03,817.83 576.03,815.72 576.38,815.72 576.38,813.61 576.73,813.61 577.67,803.29 577.67,801.41 578.61,801.41 578.61,799.53 579.54,799.53 580.48,792.03 580.48,790.62 581.42,790.62 581.42,789.21 582.36,789.21 583.30,785.93 583.30,784.52 585.17,784.52 585.64,779.36 597.37,779.36 597.84,777.48 606.29,777.01 606.76,775.61 614.73,775.14 614.73,773.45 616.61,773.45 635.00,772.88 635.00,772.40 637.14,772.40 637.14,771.91 639.28,771.91 639.28,771.42 641.42,771.42 641.42,770.93 643.56,770.93 643.56,770.44 645.70,770.44 653.20,769.51 664.46,768.57 664.46,767.96 666.34,767.96 666.34,767.35 668.22,767.35 668.22,766.74 670.09,766.74 670.09,766.13 671.97,766.13 701.06,766.13" fill="none" stroke="#D95319" stroke-width="1.1" stroke-linejoin="round"/>
<polyline points="569.13,898.43 569.13,896.26 569.19,896.26 569.19,894.08 569.26,894.08 569.26,891.90 569.32,891.90 569.32,889.72 569.39,889.72 569.39,887.54 569.46,887.54 569.46,885.36 569.52,885.36 569.52,883.18 569.59,883.18 569.59,881.01 569.65,881.01 569.65,878.83 569.72,878.83 569.72,876.65 569.78,876.65 569.78,874.47 569.85,874.47 569.85,872.29 569.91,872.29 569.91,870.11 569.98,870.11 569.98,867.93 570.04,867.93 570.04,865.76 570.11,865.76 570.11,863.58 570.17,863.58 570.17,861.40 570.24,861.40 570.24,859.22 570.30,859.22 570.30,857.04 570.37,857.04 570.37,854.86 570.43,854.86 570.43,852.68 570.50,852.68 570.50,850.51 570.56,850.51 570.56,848.33 570.63,848.33 570.63,846.07 571.01,846.07 571.01,843.82 571.38,843.82 571.38,841.57 571.76,841.57 571.76,839.32 572.13,839.32 572.13,837.07 572.51,837.07 572.98,832.00 573.91,807.98 575.79,807.98 576.73,798.59 580.01,798.13 580.95,795.31 588.93,795.31 588.93,793.90 589.87,793.90 589.87,792.50 590.80,792.50 595.50,792.03 595.50,789.84 595.96,789.84 595.96,787.65 596.43,787.65 596.43,785.46 596.90,785.46 611.92,785.46 612.85,782.64 622.24,782.17 622.24,780.77 623.65,780.77 623.65,779.36 625.05,779.36 625.05,778.66 626.93,778.66 626.93,777.95 628.81,777.95 628.81,776.78 630.68,776.78 630.68,775.61 632.56,775.61 649.45,775.70 649.45,774.48 651.33,774.48 651.33,773.26 653.20,773.26 653.20,772.63 655.08,772.63 655.08,772.01 656.96,772.01 656.96,771.38 658.83,771.38 658.83,771.17 660.92,771.17 660.92,770.97 663.00,770.97 663.00,770.76 665.09,770.76 665.09,770.55 667.17,770.55 667.17,770.34 669.26,770.34 669.26,770.13 671.34,770.13 671.34,769.92 673.43,769.92 673.43,769.72 675.51,769.72 675.51,769.51 677.60,769.51 677.60,769.20 679.73,769.20 679.73,768.89 681.87,768.89 681.87,768.59 684.00,768.59 684.00,768.28 686.13,768.28 686.13,767.97 688.26,767.97 688.26,767.66 690.40,767.66 690.40,767.36 692.53,767.36 692.53,767.05 694.66,767.05 694.66,766.74 696.79,766.74 696.79,766.44 698.93,766.44 698.93,766.13 701.06,766.13" fill="none" stroke="#EDB120" stroke-width="1.1" stroke-linejoin="round"/>
<polyline points="569.13,898.43 569.69,874.60 570.63,846.45 571.57,837.07 572.98,832.00 574.38,818.30 574.85,782.64 578.61,782.64 579.07,771.38 590.80,771.38 594.56,766.50 701.06,766.13" fill="none" stroke="#7E2F8E" stroke-width="1.1" stroke-linejoin="round"/>
<rect x="614.50" y="864.90" width="92.60" height="39.90" fill="#fff" stroke="#e2e2e2" stroke-width="0.6"/>
<line x1="620.10" y1="870.10" x2="632.10" y2="870.10" stroke="#0072BD" stroke-width="0.95"/>
<text transform="translate(633.20 872.85) scale(1.0 1.07)" font-size="7.43" fill="#141414" class="t">12.1 (AUC = 0.9884)</text>
<line x1="620.10" y1="879.90" x2="632.10" y2="879.90" stroke="#D95319" stroke-width="0.95"/>
<text transform="translate(633.20 882.65) scale(1.0 1.07)" font-size="7.43" fill="#141414" class="t">12.6 (AUC = 0.9134)</text>
<line x1="620.10" y1="889.70" x2="632.10" y2="889.70" stroke="#EDB120" stroke-width="0.95"/>
<text transform="translate(633.20 892.45) scale(1.0 1.07)" font-size="7.43" fill="#141414" class="t">13.2 (AUC = 0.8839)</text>
<line x1="620.10" y1="899.50" x2="632.10" y2="899.50" stroke="#7E2F8E" stroke-width="0.95"/>
<text transform="translate(633.20 902.25) scale(1.0 1.07)" font-size="7.43" fill="#141414" class="t">13.7 (AUC = 0.9698)</text>
<text x="635.15" y="756.00" text-anchor="middle" font-family="'Liberation Serif', 'Times New Roman', serif" font-weight="bold" font-size="8.2" fill="#000">Bagging tree</text>
<text x="635.15" y="928.38" text-anchor="middle" font-family="'Liberation Serif', 'Times New Roman', serif" font-weight="bold" font-size="7.9" fill="#000">FPR</text>
<text x="544.23" y="832.90" text-anchor="middle" font-family="'Liberation Serif', 'Times New Roman', serif" font-weight="bold" font-size="7.9" fill="#000" transform="rotate(-90 544.23 832.90)">TPR</text>
<text transform="translate(543.70 742.70) scale(0.97 1.1)" font-size="13.3" fill="#000">d*</text>
<text x="1.1" y="15.05" font-size="19.8" font-weight="bold" fill="#000">A</text>
<text x="8.0" y="256.1" font-size="19.8" font-weight="bold" fill="#000">B</text>
<text x="3.9" y="491.2" font-size="19.8" font-weight="bold" fill="#000">C</text>
<text x="2.7" y="725.8" font-size="19.8" font-weight="bold" fill="#000">D</text>
</svg>
</body></html>
